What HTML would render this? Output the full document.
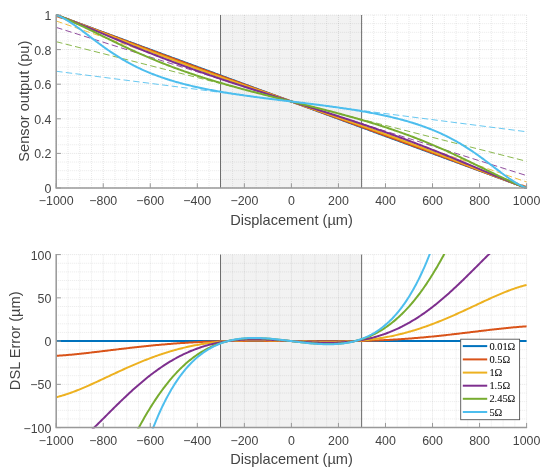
<!DOCTYPE html>
<html><head><meta charset="utf-8"><title>Sensor output and DSL error</title>
<style>html,body{margin:0;padding:0;background:#fff}svg{display:block}.t{font-family:"Liberation Sans",Arial,Helvetica,sans-serif;font-size:12.4px;fill:#444}.l{font-family:"Liberation Sans",Arial,Helvetica,sans-serif;font-size:14.6px;fill:#444}.g{font-family:"Liberation Serif","Times New Roman",serif;font-size:10.4px;fill:#111;stroke:#111;stroke-width:0.1px}</style></head><body>
<svg width="550" height="474" viewBox="0 0 550 474">
<rect width="550" height="474" fill="#fff"/>
<rect x="220.84" y="15.00" width="141.12" height="173.00" fill="#f2f2f2"/>
<path d="M67.96 15.00V188.00M79.72 15.00V188.00M91.48 15.00V188.00M115.00 15.00V188.00M126.76 15.00V188.00M138.52 15.00V188.00M162.04 15.00V188.00M173.80 15.00V188.00M185.56 15.00V188.00M209.08 15.00V188.00M220.84 15.00V188.00M232.60 15.00V188.00M256.12 15.00V188.00M267.88 15.00V188.00M279.64 15.00V188.00M303.16 15.00V188.00M314.92 15.00V188.00M326.68 15.00V188.00M350.20 15.00V188.00M361.96 15.00V188.00M373.72 15.00V188.00M397.24 15.00V188.00M409.00 15.00V188.00M420.76 15.00V188.00M444.28 15.00V188.00M456.04 15.00V188.00M467.80 15.00V188.00M491.32 15.00V188.00M503.08 15.00V188.00M514.84 15.00V188.00M56.20 179.35H526.60M56.20 170.70H526.60M56.20 162.05H526.60M56.20 144.75H526.60M56.20 136.10H526.60M56.20 127.45H526.60M56.20 110.15H526.60M56.20 101.50H526.60M56.20 92.85H526.60M56.20 75.55H526.60M56.20 66.90H526.60M56.20 58.25H526.60M56.20 40.95H526.60M56.20 32.30H526.60M56.20 23.65H526.60" stroke="#000" stroke-opacity="0.085" stroke-width="1" stroke-dasharray="1 1" fill="none"/>
<path d="M56.20 15.00V188.00M103.24 15.00V188.00M150.28 15.00V188.00M197.32 15.00V188.00M244.36 15.00V188.00M291.40 15.00V188.00M338.44 15.00V188.00M385.48 15.00V188.00M432.52 15.00V188.00M479.56 15.00V188.00M526.60 15.00V188.00M56.20 188.00H526.60M56.20 153.40H526.60M56.20 118.80H526.60M56.20 84.20H526.60M56.20 49.60H526.60M56.20 15.00H526.60" stroke="#000" stroke-opacity="0.11" stroke-width="1" stroke-dasharray="1 1" fill="none"/>
<clipPath id="c1"><rect x="55.2" y="13.5" width="472.90000000000003" height="176.0"/></clipPath>
<g clip-path="url(#c1)" fill="none" stroke-linejoin="round">
<path d="M220.5 15.00V188.00M361.6 15.00V188.00" stroke="#6e6e6e" stroke-width="1" fill="none"/>
<path d="M56.20 15.00L57.38 15.43L58.55 15.87L59.73 16.30L60.90 16.73L62.08 17.16L63.26 17.60L64.43 18.03L65.61 18.46L66.78 18.89L67.96 19.33L69.14 19.76L70.31 20.19L71.49 20.62L72.66 21.06L73.84 21.49L75.02 21.92L76.19 22.35L77.37 22.79L78.54 23.22L79.72 23.65L80.90 24.08L82.07 24.52L83.25 24.95L84.42 25.38L85.60 25.81L86.78 26.25L87.95 26.68L89.13 27.11L90.30 27.54L91.48 27.98L92.66 28.41L93.83 28.84L95.01 29.27L96.18 29.71L97.36 30.14L98.54 30.57L99.71 31.00L100.89 31.44L102.06 31.87L103.24 32.30L104.42 32.73L105.59 33.17L106.77 33.60L107.94 34.03L109.12 34.46L110.30 34.90L111.47 35.33L112.65 35.76L113.82 36.19L115.00 36.63L116.18 37.06L117.35 37.49L118.53 37.92L119.70 38.36L120.88 38.79L122.06 39.22L123.23 39.65L124.41 40.09L125.58 40.52L126.76 40.95L127.94 41.38L129.11 41.82L130.29 42.25L131.46 42.68L132.64 43.11L133.82 43.55L134.99 43.98L136.17 44.41L137.34 44.84L138.52 45.28L139.70 45.71L140.87 46.14L142.05 46.57L143.22 47.01L144.40 47.44L145.58 47.87L146.75 48.30L147.93 48.74L149.10 49.17L150.28 49.60L151.46 50.03L152.63 50.47L153.81 50.90L154.98 51.33L156.16 51.76L157.34 52.20L158.51 52.63L159.69 53.06L160.86 53.49L162.04 53.93L163.22 54.36L164.39 54.79L165.57 55.22L166.74 55.66L167.92 56.09L169.10 56.52L170.27 56.95L171.45 57.39L172.62 57.82L173.80 58.25L174.98 58.68L176.15 59.12L177.33 59.55L178.50 59.98L179.68 60.41L180.86 60.85L182.03 61.28L183.21 61.71L184.38 62.14L185.56 62.58L186.74 63.01L187.91 63.44L189.09 63.87L190.26 64.31L191.44 64.74L192.62 65.17L193.79 65.60L194.97 66.04L196.14 66.47L197.32 66.90L198.50 67.33L199.67 67.77L200.85 68.20L202.02 68.63L203.20 69.06L204.38 69.50L205.55 69.93L206.73 70.36L207.90 70.79L209.08 71.23L210.26 71.66L211.43 72.09L212.61 72.52L213.78 72.96L214.96 73.39L216.14 73.82L217.31 74.25L218.49 74.69L219.66 75.12L220.84 75.55L222.02 75.98L223.19 76.42L224.37 76.85L225.54 77.28L226.72 77.71L227.90 78.15L229.07 78.58L230.25 79.01L231.42 79.44L232.60 79.88L233.78 80.31L234.95 80.74L236.13 81.17L237.30 81.61L238.48 82.04L239.66 82.47L240.83 82.90L242.01 83.34L243.18 83.77L244.36 84.20L245.54 84.63L246.71 85.07L247.89 85.50L249.06 85.93L250.24 86.36L251.42 86.80L252.59 87.23L253.77 87.66L254.94 88.09L256.12 88.53L257.30 88.96L258.47 89.39L259.65 89.82L260.82 90.26L262.00 90.69L263.18 91.12L264.35 91.55L265.53 91.99L266.70 92.42L267.88 92.85L269.06 93.28L270.23 93.72L271.41 94.15L272.58 94.58L273.76 95.01L274.94 95.45L276.11 95.88L277.29 96.31L278.46 96.74L279.64 97.18L280.82 97.61L281.99 98.04L283.17 98.47L284.34 98.91L285.52 99.34L286.70 99.77L287.87 100.20L289.05 100.64L290.22 101.07L291.40 101.50L292.58 101.93L293.75 102.36L294.93 102.80L296.10 103.23L297.28 103.66L298.46 104.09L299.63 104.53L300.81 104.96L301.98 105.39L303.16 105.82L304.34 106.26L305.51 106.69L306.69 107.12L307.86 107.55L309.04 107.99L310.22 108.42L311.39 108.85L312.57 109.28L313.74 109.72L314.92 110.15L316.10 110.58L317.27 111.01L318.45 111.45L319.62 111.88L320.80 112.31L321.98 112.74L323.15 113.18L324.33 113.61L325.50 114.04L326.68 114.47L327.86 114.91L329.03 115.34L330.21 115.77L331.38 116.20L332.56 116.64L333.74 117.07L334.91 117.50L336.09 117.93L337.26 118.37L338.44 118.80L339.62 119.23L340.79 119.66L341.97 120.10L343.14 120.53L344.32 120.96L345.50 121.39L346.67 121.83L347.85 122.26L349.02 122.69L350.20 123.12L351.38 123.56L352.55 123.99L353.73 124.42L354.90 124.85L356.08 125.29L357.26 125.72L358.43 126.15L359.61 126.58L360.78 127.02L361.96 127.45L363.14 127.88L364.31 128.31L365.49 128.75L366.66 129.18L367.84 129.61L369.02 130.04L370.19 130.48L371.37 130.91L372.54 131.34L373.72 131.77L374.90 132.21L376.07 132.64L377.25 133.07L378.42 133.50L379.60 133.94L380.78 134.37L381.95 134.80L383.13 135.23L384.30 135.67L385.48 136.10L386.66 136.53L387.83 136.96L389.01 137.40L390.18 137.83L391.36 138.26L392.54 138.69L393.71 139.13L394.89 139.56L396.06 139.99L397.24 140.42L398.42 140.86L399.59 141.29L400.77 141.72L401.94 142.15L403.12 142.59L404.30 143.02L405.47 143.45L406.65 143.88L407.82 144.32L409.00 144.75L410.18 145.18L411.35 145.61L412.53 146.05L413.70 146.48L414.88 146.91L416.06 147.34L417.23 147.78L418.41 148.21L419.58 148.64L420.76 149.07L421.94 149.51L423.11 149.94L424.29 150.37L425.46 150.80L426.64 151.24L427.82 151.67L428.99 152.10L430.17 152.53L431.34 152.97L432.52 153.40L433.70 153.83L434.87 154.26L436.05 154.70L437.22 155.13L438.40 155.56L439.58 155.99L440.75 156.43L441.93 156.86L443.10 157.29L444.28 157.72L445.46 158.16L446.63 158.59L447.81 159.02L448.98 159.45L450.16 159.89L451.34 160.32L452.51 160.75L453.69 161.18L454.86 161.62L456.04 162.05L457.22 162.48L458.39 162.91L459.57 163.35L460.74 163.78L461.92 164.21L463.10 164.64L464.27 165.08L465.45 165.51L466.62 165.94L467.80 166.37L468.98 166.81L470.15 167.24L471.33 167.67L472.50 168.10L473.68 168.54L474.86 168.97L476.03 169.40L477.21 169.83L478.38 170.27L479.56 170.70L480.74 171.13L481.91 171.56L483.09 172.00L484.26 172.43L485.44 172.86L486.62 173.29L487.79 173.73L488.97 174.16L490.14 174.59L491.32 175.02L492.50 175.46L493.67 175.89L494.85 176.32L496.02 176.75L497.20 177.19L498.38 177.62L499.55 178.05L500.73 178.48L501.90 178.92L503.08 179.35L504.26 179.78L505.43 180.21L506.61 180.65L507.78 181.08L508.96 181.51L510.14 181.94L511.31 182.38L512.49 182.81L513.66 183.24L514.84 183.67L516.02 184.11L517.19 184.54L518.37 184.97L519.54 185.40L520.72 185.84L521.90 186.27L523.07 186.70L524.25 187.13L525.42 187.57L526.60 188.00" stroke="#0072BD" stroke-width="2"/>
<path d="M56.20 15.00L526.60 188.00" stroke="#0072BD" stroke-width="1" stroke-dasharray="6.4 3.3" stroke-opacity="0.85"/>
<path d="M56.20 15.00L57.38 15.43L58.55 15.87L59.73 16.30L60.90 16.73L62.08 17.17L63.26 17.60L64.43 18.04L65.61 18.47L66.78 18.91L67.96 19.34L69.14 19.78L70.31 20.21L71.49 20.65L72.66 21.08L73.84 21.52L75.02 21.96L76.19 22.39L77.37 22.83L78.54 23.27L79.72 23.71L80.90 24.14L82.07 24.58L83.25 25.02L84.42 25.46L85.60 25.90L86.78 26.33L87.95 26.77L89.13 27.21L90.30 27.65L91.48 28.09L92.66 28.53L93.83 28.97L95.01 29.41L96.18 29.84L97.36 30.28L98.54 30.72L99.71 31.16L100.89 31.60L102.06 32.04L103.24 32.48L104.42 32.92L105.59 33.36L106.77 33.80L107.94 34.24L109.12 34.68L110.30 35.12L111.47 35.56L112.65 36.00L113.82 36.44L115.00 36.87L116.18 37.31L117.35 37.75L118.53 38.19L119.70 38.63L120.88 39.07L122.06 39.51L123.23 39.95L124.41 40.39L125.58 40.83L126.76 41.27L127.94 41.71L129.11 42.14L130.29 42.58L131.46 43.02L132.64 43.46L133.82 43.90L134.99 44.34L136.17 44.77L137.34 45.21L138.52 45.65L139.70 46.09L140.87 46.53L142.05 46.96L143.22 47.40L144.40 47.84L145.58 48.28L146.75 48.71L147.93 49.15L149.10 49.59L150.28 50.03L151.46 50.46L152.63 50.90L153.81 51.34L154.98 51.77L156.16 52.21L157.34 52.64L158.51 53.08L159.69 53.52L160.86 53.95L162.04 54.39L163.22 54.82L164.39 55.26L165.57 55.69L166.74 56.13L167.92 56.56L169.10 57.00L170.27 57.43L171.45 57.87L172.62 58.30L173.80 58.74L174.98 59.17L176.15 59.60L177.33 60.04L178.50 60.47L179.68 60.90L180.86 61.34L182.03 61.77L183.21 62.20L184.38 62.64L185.56 63.07L186.74 63.50L187.91 63.93L189.09 64.37L190.26 64.80L191.44 65.23L192.62 65.66L193.79 66.09L194.97 66.52L196.14 66.95L197.32 67.39L198.50 67.82L199.67 68.25L200.85 68.68L202.02 69.11L203.20 69.54L204.38 69.97L205.55 70.40L206.73 70.83L207.90 71.26L209.08 71.69L210.26 72.12L211.43 72.55L212.61 72.98L213.78 73.41L214.96 73.83L216.14 74.26L217.31 74.69L218.49 75.12L219.66 75.55L220.84 75.98L222.02 76.40L223.19 76.83L224.37 77.26L225.54 77.69L226.72 78.12L227.90 78.54L229.07 78.97L230.25 79.40L231.42 79.82L232.60 80.25L233.78 80.68L234.95 81.11L236.13 81.53L237.30 81.96L238.48 82.39L239.66 82.81L240.83 83.24L242.01 83.66L243.18 84.09L244.36 84.52L245.54 84.94L246.71 85.37L247.89 85.79L249.06 86.22L250.24 86.64L251.42 87.07L252.59 87.49L253.77 87.92L254.94 88.35L256.12 88.77L257.30 89.20L258.47 89.62L259.65 90.05L260.82 90.47L262.00 90.89L263.18 91.32L264.35 91.74L265.53 92.17L266.70 92.59L267.88 93.02L269.06 93.44L270.23 93.87L271.41 94.29L272.58 94.72L273.76 95.14L274.94 95.56L276.11 95.99L277.29 96.41L278.46 96.84L279.64 97.26L280.82 97.68L281.99 98.11L283.17 98.53L284.34 98.96L285.52 99.38L286.70 99.80L287.87 100.23L289.05 100.65L290.22 101.08L291.40 101.50L292.58 101.92L293.75 102.35L294.93 102.77L296.10 103.20L297.28 103.62L298.46 104.04L299.63 104.47L300.81 104.89L301.98 105.32L303.16 105.74L304.34 106.16L305.51 106.59L306.69 107.01L307.86 107.44L309.04 107.86L310.22 108.28L311.39 108.71L312.57 109.13L313.74 109.56L314.92 109.98L316.10 110.41L317.27 110.83L318.45 111.26L319.62 111.68L320.80 112.11L321.98 112.53L323.15 112.95L324.33 113.38L325.50 113.80L326.68 114.23L327.86 114.65L329.03 115.08L330.21 115.51L331.38 115.93L332.56 116.36L333.74 116.78L334.91 117.21L336.09 117.63L337.26 118.06L338.44 118.48L339.62 118.91L340.79 119.34L341.97 119.76L343.14 120.19L344.32 120.61L345.50 121.04L346.67 121.47L347.85 121.89L349.02 122.32L350.20 122.75L351.38 123.18L352.55 123.60L353.73 124.03L354.90 124.46L356.08 124.88L357.26 125.31L358.43 125.74L359.61 126.17L360.78 126.60L361.96 127.02L363.14 127.45L364.31 127.88L365.49 128.31L366.66 128.74L367.84 129.17L369.02 129.59L370.19 130.02L371.37 130.45L372.54 130.88L373.72 131.31L374.90 131.74L376.07 132.17L377.25 132.60L378.42 133.03L379.60 133.46L380.78 133.89L381.95 134.32L383.13 134.75L384.30 135.18L385.48 135.61L386.66 136.05L387.83 136.48L389.01 136.91L390.18 137.34L391.36 137.77L392.54 138.20L393.71 138.63L394.89 139.07L396.06 139.50L397.24 139.93L398.42 140.36L399.59 140.80L400.77 141.23L401.94 141.66L403.12 142.10L404.30 142.53L405.47 142.96L406.65 143.40L407.82 143.83L409.00 144.26L410.18 144.70L411.35 145.13L412.53 145.57L413.70 146.00L414.88 146.44L416.06 146.87L417.23 147.31L418.41 147.74L419.58 148.18L420.76 148.61L421.94 149.05L423.11 149.48L424.29 149.92L425.46 150.36L426.64 150.79L427.82 151.23L428.99 151.66L430.17 152.10L431.34 152.54L432.52 152.97L433.70 153.41L434.87 153.85L436.05 154.29L437.22 154.72L438.40 155.16L439.58 155.60L440.75 156.04L441.93 156.47L443.10 156.91L444.28 157.35L445.46 157.79L446.63 158.23L447.81 158.66L448.98 159.10L450.16 159.54L451.34 159.98L452.51 160.42L453.69 160.86L454.86 161.29L456.04 161.73L457.22 162.17L458.39 162.61L459.57 163.05L460.74 163.49L461.92 163.93L463.10 164.37L464.27 164.81L465.45 165.25L466.62 165.69L467.80 166.13L468.98 166.56L470.15 167.00L471.33 167.44L472.50 167.88L473.68 168.32L474.86 168.76L476.03 169.20L477.21 169.64L478.38 170.08L479.56 170.52L480.74 170.96L481.91 171.40L483.09 171.84L484.26 172.28L485.44 172.72L486.62 173.16L487.79 173.59L488.97 174.03L490.14 174.47L491.32 174.91L492.50 175.35L493.67 175.79L494.85 176.23L496.02 176.67L497.20 177.10L498.38 177.54L499.55 177.98L500.73 178.42L501.90 178.86L503.08 179.29L504.26 179.73L505.43 180.17L506.61 180.61L507.78 181.04L508.96 181.48L510.14 181.92L511.31 182.35L512.49 182.79L513.66 183.22L514.84 183.66L516.02 184.09L517.19 184.53L518.37 184.96L519.54 185.40L520.72 185.83L521.90 186.27L523.07 186.70L524.25 187.13L525.42 187.57L526.60 188.00" stroke="#D95319" stroke-width="2"/>
<path d="M56.20 16.58L526.60 186.42" stroke="#D95319" stroke-width="1" stroke-dasharray="6.4 3.3" stroke-opacity="0.85"/>
<path d="M56.20 15.00L57.38 15.43L58.55 15.87L59.73 16.30L60.90 16.74L62.08 17.18L63.26 17.62L64.43 18.06L65.61 18.50L66.78 18.94L67.96 19.39L69.14 19.83L70.31 20.28L71.49 20.73L72.66 21.17L73.84 21.62L75.02 22.07L76.19 22.52L77.37 22.97L78.54 23.42L79.72 23.88L80.90 24.33L82.07 24.78L83.25 25.24L84.42 25.69L85.60 26.15L86.78 26.60L87.95 27.06L89.13 27.51L90.30 27.97L91.48 28.43L92.66 28.89L93.83 29.34L95.01 29.80L96.18 30.26L97.36 30.72L98.54 31.18L99.71 31.64L100.89 32.10L102.06 32.56L103.24 33.02L104.42 33.48L105.59 33.94L106.77 34.40L107.94 34.85L109.12 35.31L110.30 35.77L111.47 36.23L112.65 36.69L113.82 37.15L115.00 37.61L116.18 38.07L117.35 38.53L118.53 38.99L119.70 39.45L120.88 39.91L122.06 40.36L123.23 40.82L124.41 41.28L125.58 41.74L126.76 42.19L127.94 42.65L129.11 43.11L130.29 43.56L131.46 44.02L132.64 44.48L133.82 44.93L134.99 45.39L136.17 45.84L137.34 46.30L138.52 46.75L139.70 47.20L140.87 47.65L142.05 48.11L143.22 48.56L144.40 49.01L145.58 49.46L146.75 49.91L147.93 50.36L149.10 50.81L150.28 51.26L151.46 51.71L152.63 52.16L153.81 52.60L154.98 53.05L156.16 53.50L157.34 53.94L158.51 54.39L159.69 54.83L160.86 55.28L162.04 55.72L163.22 56.17L164.39 56.61L165.57 57.05L166.74 57.49L167.92 57.93L169.10 58.37L170.27 58.81L171.45 59.25L172.62 59.69L173.80 60.13L174.98 60.57L176.15 61.00L177.33 61.44L178.50 61.87L179.68 62.31L180.86 62.74L182.03 63.18L183.21 63.61L184.38 64.04L185.56 64.48L186.74 64.91L187.91 65.34L189.09 65.77L190.26 66.20L191.44 66.63L192.62 67.06L193.79 67.48L194.97 67.91L196.14 68.34L197.32 68.76L198.50 69.19L199.67 69.62L200.85 70.04L202.02 70.46L203.20 70.89L204.38 71.31L205.55 71.73L206.73 72.15L207.90 72.58L209.08 73.00L210.26 73.42L211.43 73.84L212.61 74.26L213.78 74.67L214.96 75.09L216.14 75.51L217.31 75.93L218.49 76.34L219.66 76.76L220.84 77.18L222.02 77.59L223.19 78.01L224.37 78.42L225.54 78.83L226.72 79.25L227.90 79.66L229.07 80.07L230.25 80.48L231.42 80.90L232.60 81.31L233.78 81.72L234.95 82.13L236.13 82.54L237.30 82.95L238.48 83.36L239.66 83.77L240.83 84.17L242.01 84.58L243.18 84.99L244.36 85.40L245.54 85.80L246.71 86.21L247.89 86.62L249.06 87.02L250.24 87.43L251.42 87.84L252.59 88.24L253.77 88.65L254.94 89.05L256.12 89.45L257.30 89.86L258.47 90.26L259.65 90.67L260.82 91.07L262.00 91.47L263.18 91.87L264.35 92.28L265.53 92.68L266.70 93.08L267.88 93.48L269.06 93.89L270.23 94.29L271.41 94.69L272.58 95.09L273.76 95.49L274.94 95.89L276.11 96.29L277.29 96.70L278.46 97.10L279.64 97.50L280.82 97.90L281.99 98.30L283.17 98.70L284.34 99.10L285.52 99.50L286.70 99.90L287.87 100.30L289.05 100.70L290.22 101.10L291.40 101.50L292.58 101.90L293.75 102.30L294.93 102.70L296.10 103.10L297.28 103.50L298.46 103.90L299.63 104.30L300.81 104.70L301.98 105.10L303.16 105.50L304.34 105.90L305.51 106.30L306.69 106.71L307.86 107.11L309.04 107.51L310.22 107.91L311.39 108.31L312.57 108.71L313.74 109.11L314.92 109.52L316.10 109.92L317.27 110.32L318.45 110.72L319.62 111.13L320.80 111.53L321.98 111.93L323.15 112.33L324.33 112.74L325.50 113.14L326.68 113.55L327.86 113.95L329.03 114.35L330.21 114.76L331.38 115.16L332.56 115.57L333.74 115.98L334.91 116.38L336.09 116.79L337.26 117.20L338.44 117.60L339.62 118.01L340.79 118.42L341.97 118.83L343.14 119.23L344.32 119.64L345.50 120.05L346.67 120.46L347.85 120.87L349.02 121.28L350.20 121.69L351.38 122.10L352.55 122.52L353.73 122.93L354.90 123.34L356.08 123.75L357.26 124.17L358.43 124.58L359.61 124.99L360.78 125.41L361.96 125.82L363.14 126.24L364.31 126.66L365.49 127.07L366.66 127.49L367.84 127.91L369.02 128.33L370.19 128.74L371.37 129.16L372.54 129.58L373.72 130.00L374.90 130.42L376.07 130.85L377.25 131.27L378.42 131.69L379.60 132.11L380.78 132.54L381.95 132.96L383.13 133.38L384.30 133.81L385.48 134.24L386.66 134.66L387.83 135.09L389.01 135.52L390.18 135.94L391.36 136.37L392.54 136.80L393.71 137.23L394.89 137.66L396.06 138.09L397.24 138.52L398.42 138.96L399.59 139.39L400.77 139.82L401.94 140.26L403.12 140.69L404.30 141.13L405.47 141.56L406.65 142.00L407.82 142.43L409.00 142.87L410.18 143.31L411.35 143.75L412.53 144.19L413.70 144.63L414.88 145.07L416.06 145.51L417.23 145.95L418.41 146.39L419.58 146.83L420.76 147.28L421.94 147.72L423.11 148.17L424.29 148.61L425.46 149.06L426.64 149.50L427.82 149.95L428.99 150.40L430.17 150.84L431.34 151.29L432.52 151.74L433.70 152.19L434.87 152.64L436.05 153.09L437.22 153.54L438.40 153.99L439.58 154.44L440.75 154.89L441.93 155.35L443.10 155.80L444.28 156.25L445.46 156.70L446.63 157.16L447.81 157.61L448.98 158.07L450.16 158.52L451.34 158.98L452.51 159.44L453.69 159.89L454.86 160.35L456.04 160.81L457.22 161.26L458.39 161.72L459.57 162.18L460.74 162.64L461.92 163.09L463.10 163.55L464.27 164.01L465.45 164.47L466.62 164.93L467.80 165.39L468.98 165.85L470.15 166.31L471.33 166.77L472.50 167.23L473.68 167.69L474.86 168.15L476.03 168.60L477.21 169.06L478.38 169.52L479.56 169.98L480.74 170.44L481.91 170.90L483.09 171.36L484.26 171.82L485.44 172.28L486.62 172.74L487.79 173.20L488.97 173.66L490.14 174.11L491.32 174.57L492.50 175.03L493.67 175.49L494.85 175.94L496.02 176.40L497.20 176.85L498.38 177.31L499.55 177.76L500.73 178.22L501.90 178.67L503.08 179.12L504.26 179.58L505.43 180.03L506.61 180.48L507.78 180.93L508.96 181.38L510.14 181.83L511.31 182.27L512.49 182.72L513.66 183.17L514.84 183.61L516.02 184.06L517.19 184.50L518.37 184.94L519.54 185.38L520.72 185.82L521.90 186.26L523.07 186.70L524.25 187.13L525.42 187.57L526.60 188.00" stroke="#EDB120" stroke-width="2"/>
<path d="M56.20 20.99L526.60 182.01" stroke="#EDB120" stroke-width="1" stroke-dasharray="6.4 3.3" stroke-opacity="0.85"/>
<path d="M56.20 15.00L57.38 15.43L58.55 15.87L59.73 16.31L60.90 16.75L62.08 17.20L63.26 17.65L64.43 18.10L65.61 18.55L66.78 19.01L67.96 19.47L69.14 19.93L70.31 20.39L71.49 20.85L72.66 21.32L73.84 21.79L75.02 22.26L76.19 22.73L77.37 23.21L78.54 23.68L79.72 24.16L80.90 24.64L82.07 25.11L83.25 25.60L84.42 26.08L85.60 26.56L86.78 27.04L87.95 27.53L89.13 28.01L90.30 28.50L91.48 28.99L92.66 29.48L93.83 29.97L95.01 30.46L96.18 30.95L97.36 31.44L98.54 31.93L99.71 32.42L100.89 32.91L102.06 33.40L103.24 33.89L104.42 34.38L105.59 34.87L106.77 35.37L107.94 35.86L109.12 36.35L110.30 36.84L111.47 37.33L112.65 37.82L113.82 38.31L115.00 38.80L116.18 39.29L117.35 39.78L118.53 40.27L119.70 40.76L120.88 41.25L122.06 41.74L123.23 42.22L124.41 42.71L125.58 43.20L126.76 43.68L127.94 44.17L129.11 44.65L130.29 45.13L131.46 45.61L132.64 46.09L133.82 46.57L134.99 47.05L136.17 47.53L137.34 48.01L138.52 48.49L139.70 48.96L140.87 49.44L142.05 49.91L143.22 50.38L144.40 50.85L145.58 51.32L146.75 51.79L147.93 52.26L149.10 52.73L150.28 53.19L151.46 53.66L152.63 54.12L153.81 54.58L154.98 55.04L156.16 55.50L157.34 55.96L158.51 56.42L159.69 56.88L160.86 57.33L162.04 57.79L163.22 58.24L164.39 58.69L165.57 59.14L166.74 59.59L167.92 60.04L169.10 60.48L170.27 60.93L171.45 61.37L172.62 61.82L173.80 62.26L174.98 62.70L176.15 63.14L177.33 63.58L178.50 64.01L179.68 64.45L180.86 64.88L182.03 65.31L183.21 65.75L184.38 66.18L185.56 66.61L186.74 67.03L187.91 67.46L189.09 67.89L190.26 68.31L191.44 68.73L192.62 69.15L193.79 69.57L194.97 69.99L196.14 70.41L197.32 70.83L198.50 71.25L199.67 71.66L200.85 72.07L202.02 72.49L203.20 72.90L204.38 73.31L205.55 73.72L206.73 74.13L207.90 74.53L209.08 74.94L210.26 75.34L211.43 75.75L212.61 76.15L213.78 76.55L214.96 76.95L216.14 77.35L217.31 77.75L218.49 78.15L219.66 78.55L220.84 78.94L222.02 79.34L223.19 79.73L224.37 80.12L225.54 80.52L226.72 80.91L227.90 81.30L229.07 81.69L230.25 82.08L231.42 82.46L232.60 82.85L233.78 83.24L234.95 83.62L236.13 84.01L237.30 84.39L238.48 84.77L239.66 85.16L240.83 85.54L242.01 85.92L243.18 86.30L244.36 86.68L245.54 87.06L246.71 87.44L247.89 87.82L249.06 88.19L250.24 88.57L251.42 88.95L252.59 89.32L253.77 89.70L254.94 90.07L256.12 90.44L257.30 90.82L258.47 91.19L259.65 91.56L260.82 91.93L262.00 92.31L263.18 92.68L264.35 93.05L265.53 93.42L266.70 93.79L267.88 94.16L269.06 94.53L270.23 94.90L271.41 95.26L272.58 95.63L273.76 96.00L274.94 96.37L276.11 96.74L277.29 97.10L278.46 97.47L279.64 97.84L280.82 98.20L281.99 98.57L283.17 98.94L284.34 99.30L285.52 99.67L286.70 100.04L287.87 100.40L289.05 100.77L290.22 101.13L291.40 101.50L292.58 101.87L293.75 102.23L294.93 102.60L296.10 102.96L297.28 103.33L298.46 103.70L299.63 104.06L300.81 104.43L301.98 104.80L303.16 105.16L304.34 105.53L305.51 105.90L306.69 106.26L307.86 106.63L309.04 107.00L310.22 107.37L311.39 107.74L312.57 108.10L313.74 108.47L314.92 108.84L316.10 109.21L317.27 109.58L318.45 109.95L319.62 110.32L320.80 110.69L321.98 111.07L323.15 111.44L324.33 111.81L325.50 112.18L326.68 112.56L327.86 112.93L329.03 113.30L330.21 113.68L331.38 114.05L332.56 114.43L333.74 114.81L334.91 115.18L336.09 115.56L337.26 115.94L338.44 116.32L339.62 116.70L340.79 117.08L341.97 117.46L343.14 117.84L344.32 118.23L345.50 118.61L346.67 118.99L347.85 119.38L349.02 119.76L350.20 120.15L351.38 120.54L352.55 120.92L353.73 121.31L354.90 121.70L356.08 122.09L357.26 122.48L358.43 122.88L359.61 123.27L360.78 123.66L361.96 124.06L363.14 124.45L364.31 124.85L365.49 125.25L366.66 125.65L367.84 126.05L369.02 126.45L370.19 126.85L371.37 127.25L372.54 127.66L373.72 128.06L374.90 128.47L376.07 128.87L377.25 129.28L378.42 129.69L379.60 130.10L380.78 130.51L381.95 130.93L383.13 131.34L384.30 131.75L385.48 132.17L386.66 132.59L387.83 133.01L389.01 133.43L390.18 133.85L391.36 134.27L392.54 134.69L393.71 135.11L394.89 135.54L396.06 135.97L397.24 136.39L398.42 136.82L399.59 137.25L400.77 137.69L401.94 138.12L403.12 138.55L404.30 138.99L405.47 139.42L406.65 139.86L407.82 140.30L409.00 140.74L410.18 141.18L411.35 141.63L412.53 142.07L413.70 142.52L414.88 142.96L416.06 143.41L417.23 143.86L418.41 144.31L419.58 144.76L420.76 145.21L421.94 145.67L423.11 146.12L424.29 146.58L425.46 147.04L426.64 147.50L427.82 147.96L428.99 148.42L430.17 148.88L431.34 149.34L432.52 149.81L433.70 150.27L434.87 150.74L436.05 151.21L437.22 151.68L438.40 152.15L439.58 152.62L440.75 153.09L441.93 153.56L443.10 154.04L444.28 154.51L445.46 154.99L446.63 155.47L447.81 155.95L448.98 156.43L450.16 156.91L451.34 157.39L452.51 157.87L453.69 158.35L454.86 158.83L456.04 159.32L457.22 159.80L458.39 160.29L459.57 160.78L460.74 161.26L461.92 161.75L463.10 162.24L464.27 162.73L465.45 163.22L466.62 163.71L467.80 164.20L468.98 164.69L470.15 165.18L471.33 165.67L472.50 166.16L473.68 166.65L474.86 167.14L476.03 167.63L477.21 168.13L478.38 168.62L479.56 169.11L480.74 169.60L481.91 170.09L483.09 170.58L484.26 171.07L485.44 171.56L486.62 172.05L487.79 172.54L488.97 173.03L490.14 173.52L491.32 174.01L492.50 174.50L493.67 174.99L494.85 175.47L496.02 175.96L497.20 176.44L498.38 176.92L499.55 177.40L500.73 177.89L501.90 178.36L503.08 178.84L504.26 179.32L505.43 179.79L506.61 180.27L507.78 180.74L508.96 181.21L510.14 181.68L511.31 182.15L512.49 182.61L513.66 183.07L514.84 183.53L516.02 183.99L517.19 184.45L518.37 184.90L519.54 185.35L520.72 185.80L521.90 186.25L523.07 186.69L524.25 187.13L525.42 187.57L526.60 188.00" stroke="#7E2F8E" stroke-width="2"/>
<path d="M56.20 27.40L526.60 175.60" stroke="#7E2F8E" stroke-width="1" stroke-dasharray="6.4 3.3" stroke-opacity="0.85"/>
<path d="M56.20 15.00L57.38 15.44L58.55 15.88L59.73 16.33L60.90 16.79L62.08 17.26L63.26 17.74L64.43 18.22L65.61 18.71L66.78 19.20L67.96 19.70L69.14 20.21L70.31 20.72L71.49 21.24L72.66 21.76L73.84 22.29L75.02 22.82L76.19 23.36L77.37 23.90L78.54 24.44L79.72 24.99L80.90 25.54L82.07 26.09L83.25 26.65L84.42 27.21L85.60 27.77L86.78 28.34L87.95 28.91L89.13 29.48L90.30 30.05L91.48 30.62L92.66 31.19L93.83 31.77L95.01 32.34L96.18 32.92L97.36 33.50L98.54 34.08L99.71 34.65L100.89 35.23L102.06 35.81L103.24 36.39L104.42 36.97L105.59 37.54L106.77 38.12L107.94 38.70L109.12 39.27L110.30 39.85L111.47 40.42L112.65 40.99L113.82 41.56L115.00 42.13L116.18 42.70L117.35 43.26L118.53 43.83L119.70 44.39L120.88 44.95L122.06 45.51L123.23 46.07L124.41 46.62L125.58 47.18L126.76 47.73L127.94 48.27L129.11 48.82L130.29 49.36L131.46 49.90L132.64 50.44L133.82 50.98L134.99 51.51L136.17 52.04L137.34 52.57L138.52 53.10L139.70 53.62L140.87 54.14L142.05 54.65L143.22 55.17L144.40 55.68L145.58 56.19L146.75 56.69L147.93 57.20L149.10 57.70L150.28 58.19L151.46 58.69L152.63 59.18L153.81 59.67L154.98 60.15L156.16 60.63L157.34 61.11L158.51 61.59L159.69 62.06L160.86 62.53L162.04 63.00L163.22 63.46L164.39 63.92L165.57 64.38L166.74 64.84L167.92 65.29L169.10 65.74L170.27 66.19L171.45 66.63L172.62 67.07L173.80 67.51L174.98 67.95L176.15 68.38L177.33 68.81L178.50 69.24L179.68 69.66L180.86 70.08L182.03 70.50L183.21 70.92L184.38 71.33L185.56 71.74L186.74 72.15L187.91 72.56L189.09 72.96L190.26 73.36L191.44 73.76L192.62 74.16L193.79 74.55L194.97 74.94L196.14 75.33L197.32 75.71L198.50 76.10L199.67 76.48L200.85 76.86L202.02 77.24L203.20 77.61L204.38 77.98L205.55 78.35L206.73 78.72L207.90 79.09L209.08 79.45L210.26 79.81L211.43 80.17L212.61 80.53L213.78 80.89L214.96 81.24L216.14 81.59L217.31 81.94L218.49 82.29L219.66 82.64L220.84 82.98L222.02 83.32L223.19 83.66L224.37 84.00L225.54 84.34L226.72 84.68L227.90 85.01L229.07 85.34L230.25 85.67L231.42 86.00L232.60 86.33L233.78 86.66L234.95 86.99L236.13 87.31L237.30 87.63L238.48 87.95L239.66 88.27L240.83 88.59L242.01 88.91L243.18 89.22L244.36 89.54L245.54 89.85L246.71 90.17L247.89 90.48L249.06 90.79L250.24 91.10L251.42 91.41L252.59 91.71L253.77 92.02L254.94 92.33L256.12 92.63L257.30 92.93L258.47 93.24L259.65 93.54L260.82 93.84L262.00 94.14L263.18 94.44L264.35 94.74L265.53 95.04L266.70 95.34L267.88 95.63L269.06 95.93L270.23 96.23L271.41 96.52L272.58 96.82L273.76 97.11L274.94 97.41L276.11 97.70L277.29 98.00L278.46 98.29L279.64 98.58L280.82 98.87L281.99 99.17L283.17 99.46L284.34 99.75L285.52 100.04L286.70 100.33L287.87 100.63L289.05 100.92L290.22 101.21L291.40 101.50L292.58 101.79L293.75 102.08L294.93 102.37L296.10 102.67L297.28 102.96L298.46 103.25L299.63 103.54L300.81 103.83L301.98 104.13L303.16 104.42L304.34 104.71L305.51 105.00L306.69 105.30L307.86 105.59L309.04 105.89L310.22 106.18L311.39 106.48L312.57 106.77L313.74 107.07L314.92 107.37L316.10 107.66L317.27 107.96L318.45 108.26L319.62 108.56L320.80 108.86L321.98 109.16L323.15 109.46L324.33 109.76L325.50 110.07L326.68 110.37L327.86 110.67L329.03 110.98L330.21 111.29L331.38 111.59L332.56 111.90L333.74 112.21L334.91 112.52L336.09 112.83L337.26 113.15L338.44 113.46L339.62 113.78L340.79 114.09L341.97 114.41L343.14 114.73L344.32 115.05L345.50 115.37L346.67 115.69L347.85 116.01L349.02 116.34L350.20 116.67L351.38 117.00L352.55 117.33L353.73 117.66L354.90 117.99L356.08 118.32L357.26 118.66L358.43 119.00L359.61 119.34L360.78 119.68L361.96 120.02L363.14 120.36L364.31 120.71L365.49 121.06L366.66 121.41L367.84 121.76L369.02 122.11L370.19 122.47L371.37 122.83L372.54 123.19L373.72 123.55L374.90 123.91L376.07 124.28L377.25 124.65L378.42 125.02L379.60 125.39L380.78 125.76L381.95 126.14L383.13 126.52L384.30 126.90L385.48 127.29L386.66 127.67L387.83 128.06L389.01 128.45L390.18 128.84L391.36 129.24L392.54 129.64L393.71 130.04L394.89 130.44L396.06 130.85L397.24 131.26L398.42 131.67L399.59 132.08L400.77 132.50L401.94 132.92L403.12 133.34L404.30 133.76L405.47 134.19L406.65 134.62L407.82 135.05L409.00 135.49L410.18 135.93L411.35 136.37L412.53 136.81L413.70 137.26L414.88 137.71L416.06 138.16L417.23 138.62L418.41 139.08L419.58 139.54L420.76 140.00L421.94 140.47L423.11 140.94L424.29 141.41L425.46 141.89L426.64 142.37L427.82 142.85L428.99 143.33L430.17 143.82L431.34 144.31L432.52 144.81L433.70 145.30L434.87 145.80L436.05 146.31L437.22 146.81L438.40 147.32L439.58 147.83L440.75 148.35L441.93 148.86L443.10 149.38L444.28 149.90L445.46 150.43L446.63 150.96L447.81 151.49L448.98 152.02L450.16 152.56L451.34 153.10L452.51 153.64L453.69 154.18L454.86 154.73L456.04 155.27L457.22 155.82L458.39 156.38L459.57 156.93L460.74 157.49L461.92 158.05L463.10 158.61L464.27 159.17L465.45 159.74L466.62 160.30L467.80 160.87L468.98 161.44L470.15 162.01L471.33 162.58L472.50 163.15L473.68 163.73L474.86 164.30L476.03 164.88L477.21 165.46L478.38 166.03L479.56 166.61L480.74 167.19L481.91 167.77L483.09 168.35L484.26 168.92L485.44 169.50L486.62 170.08L487.79 170.66L488.97 171.23L490.14 171.81L491.32 172.38L492.50 172.95L493.67 173.52L494.85 174.09L496.02 174.66L497.20 175.23L498.38 175.79L499.55 176.35L500.73 176.91L501.90 177.46L503.08 178.01L504.26 178.56L505.43 179.10L506.61 179.64L507.78 180.18L508.96 180.71L510.14 181.24L511.31 181.76L512.49 182.28L513.66 182.79L514.84 183.30L516.02 183.80L517.19 184.29L518.37 184.78L519.54 185.26L520.72 185.74L521.90 186.21L523.07 186.67L524.25 187.12L525.42 187.56L526.60 188.00" stroke="#77AC30" stroke-width="2"/>
<path d="M56.20 41.70L526.60 161.30" stroke="#77AC30" stroke-width="1" stroke-dasharray="6.4 3.3" stroke-opacity="0.85"/>
<path d="M56.20 15.00L57.38 15.45L58.55 15.93L59.73 16.45L60.90 17.00L62.08 17.58L63.26 18.18L64.43 18.82L65.61 19.48L66.78 20.16L67.96 20.87L69.14 21.60L70.31 22.35L71.49 23.12L72.66 23.91L73.84 24.72L75.02 25.54L76.19 26.37L77.37 27.21L78.54 28.07L79.72 28.94L80.90 29.81L82.07 30.69L83.25 31.58L84.42 32.47L85.60 33.36L86.78 34.26L87.95 35.16L89.13 36.06L90.30 36.96L91.48 37.86L92.66 38.76L93.83 39.66L95.01 40.55L96.18 41.43L97.36 42.32L98.54 43.20L99.71 44.07L100.89 44.93L102.06 45.79L103.24 46.64L104.42 47.49L105.59 48.33L106.77 49.15L107.94 49.97L109.12 50.78L110.30 51.59L111.47 52.38L112.65 53.16L113.82 53.94L115.00 54.70L116.18 55.45L117.35 56.20L118.53 56.93L119.70 57.66L120.88 58.37L122.06 59.07L123.23 59.77L124.41 60.45L125.58 61.13L126.76 61.79L127.94 62.44L129.11 63.09L130.29 63.72L131.46 64.35L132.64 64.96L133.82 65.57L134.99 66.16L136.17 66.75L137.34 67.32L138.52 67.89L139.70 68.45L140.87 69.00L142.05 69.54L143.22 70.07L144.40 70.59L145.58 71.11L146.75 71.61L147.93 72.11L149.10 72.60L150.28 73.08L151.46 73.56L152.63 74.02L153.81 74.48L154.98 74.93L156.16 75.38L157.34 75.81L158.51 76.24L159.69 76.67L160.86 77.08L162.04 77.49L163.22 77.89L164.39 78.29L165.57 78.68L166.74 79.06L167.92 79.44L169.10 79.81L170.27 80.18L171.45 80.54L172.62 80.89L173.80 81.24L174.98 81.59L176.15 81.92L177.33 82.26L178.50 82.58L179.68 82.91L180.86 83.23L182.03 83.54L183.21 83.85L184.38 84.15L185.56 84.45L186.74 84.75L187.91 85.04L189.09 85.33L190.26 85.61L191.44 85.89L192.62 86.16L193.79 86.43L194.97 86.70L196.14 86.96L197.32 87.22L198.50 87.48L199.67 87.73L200.85 87.98L202.02 88.23L203.20 88.47L204.38 88.71L205.55 88.95L206.73 89.18L207.90 89.42L209.08 89.64L210.26 89.87L211.43 90.09L212.61 90.31L213.78 90.53L214.96 90.75L216.14 90.96L217.31 91.17L218.49 91.38L219.66 91.58L220.84 91.78L222.02 91.98L223.19 92.18L224.37 92.38L225.54 92.57L226.72 92.77L227.90 92.96L229.07 93.15L230.25 93.33L231.42 93.52L232.60 93.70L233.78 93.88L234.95 94.06L236.13 94.24L237.30 94.42L238.48 94.59L239.66 94.77L240.83 94.94L242.01 95.11L243.18 95.28L244.36 95.45L245.54 95.62L246.71 95.78L247.89 95.95L249.06 96.11L250.24 96.27L251.42 96.43L252.59 96.59L253.77 96.75L254.94 96.91L256.12 97.07L257.30 97.22L258.47 97.38L259.65 97.53L260.82 97.69L262.00 97.84L263.18 97.99L264.35 98.14L265.53 98.30L266.70 98.45L267.88 98.59L269.06 98.74L270.23 98.89L271.41 99.04L272.58 99.19L273.76 99.33L274.94 99.48L276.11 99.63L277.29 99.77L278.46 99.92L279.64 100.06L280.82 100.21L281.99 100.35L283.17 100.50L284.34 100.64L285.52 100.78L286.70 100.93L287.87 101.07L289.05 101.21L290.22 101.36L291.40 101.50L292.58 101.64L293.75 101.79L294.93 101.93L296.10 102.07L297.28 102.22L298.46 102.36L299.63 102.50L300.81 102.65L301.98 102.79L303.16 102.94L304.34 103.08L305.51 103.23L306.69 103.37L307.86 103.52L309.04 103.67L310.22 103.81L311.39 103.96L312.57 104.11L313.74 104.26L314.92 104.41L316.10 104.55L317.27 104.70L318.45 104.86L319.62 105.01L320.80 105.16L321.98 105.31L323.15 105.47L324.33 105.62L325.50 105.78L326.68 105.93L327.86 106.09L329.03 106.25L330.21 106.41L331.38 106.57L332.56 106.73L333.74 106.89L334.91 107.05L336.09 107.22L337.26 107.38L338.44 107.55L339.62 107.72L340.79 107.89L341.97 108.06L343.14 108.23L344.32 108.41L345.50 108.58L346.67 108.76L347.85 108.94L349.02 109.12L350.20 109.30L351.38 109.48L352.55 109.67L353.73 109.85L354.90 110.04L356.08 110.23L357.26 110.43L358.43 110.62L359.61 110.82L360.78 111.02L361.96 111.22L363.14 111.42L364.31 111.62L365.49 111.83L366.66 112.04L367.84 112.25L369.02 112.47L370.19 112.69L371.37 112.91L372.54 113.13L373.72 113.36L374.90 113.58L376.07 113.82L377.25 114.05L378.42 114.29L379.60 114.53L380.78 114.77L381.95 115.02L383.13 115.27L384.30 115.52L385.48 115.78L386.66 116.04L387.83 116.30L389.01 116.57L390.18 116.84L391.36 117.11L392.54 117.39L393.71 117.67L394.89 117.96L396.06 118.25L397.24 118.55L398.42 118.85L399.59 119.15L400.77 119.46L401.94 119.77L403.12 120.09L404.30 120.42L405.47 120.74L406.65 121.08L407.82 121.41L409.00 121.76L410.18 122.11L411.35 122.46L412.53 122.82L413.70 123.19L414.88 123.56L416.06 123.94L417.23 124.32L418.41 124.71L419.58 125.11L420.76 125.51L421.94 125.92L423.11 126.33L424.29 126.76L425.46 127.19L426.64 127.62L427.82 128.07L428.99 128.52L430.17 128.98L431.34 129.44L432.52 129.92L433.70 130.40L434.87 130.89L436.05 131.39L437.22 131.89L438.40 132.41L439.58 132.93L440.75 133.46L441.93 134.00L443.10 134.55L444.28 135.11L445.46 135.68L446.63 136.25L447.81 136.84L448.98 137.43L450.16 138.04L451.34 138.65L452.51 139.28L453.69 139.91L454.86 140.56L456.04 141.21L457.22 141.87L458.39 142.55L459.57 143.23L460.74 143.93L461.92 144.63L463.10 145.34L464.27 146.07L465.45 146.80L466.62 147.55L467.80 148.30L468.98 149.06L470.15 149.84L471.33 150.62L472.50 151.41L473.68 152.22L474.86 153.03L476.03 153.85L477.21 154.67L478.38 155.51L479.56 156.36L480.74 157.21L481.91 158.07L483.09 158.93L484.26 159.80L485.44 160.68L486.62 161.57L487.79 162.45L488.97 163.34L490.14 164.24L491.32 165.14L492.50 166.04L493.67 166.94L494.85 167.84L496.02 168.74L497.20 169.64L498.38 170.53L499.55 171.42L500.73 172.31L501.90 173.19L503.08 174.06L504.26 174.93L505.43 175.79L506.61 176.63L507.78 177.46L508.96 178.28L510.14 179.09L511.31 179.88L512.49 180.65L513.66 181.40L514.84 182.13L516.02 182.84L517.19 183.52L518.37 184.18L519.54 184.82L520.72 185.42L521.90 186.00L523.07 186.55L524.25 187.07L525.42 187.55L526.60 188.00" stroke="#4DBEEE" stroke-width="2"/>
<path d="M56.20 71.25L526.60 131.75" stroke="#4DBEEE" stroke-width="1" stroke-dasharray="6.4 3.3" stroke-opacity="0.85"/>
</g>
<path d="M56.20 188.00v-4.7M103.24 188.00v-4.7M150.28 188.00v-4.7M197.32 188.00v-4.7M244.36 188.00v-4.7M291.40 188.00v-4.7M338.44 188.00v-4.7M385.48 188.00v-4.7M432.52 188.00v-4.7M479.56 188.00v-4.7M526.60 188.00v-4.7M56.20 188.00h4.7M56.20 153.40h4.7M56.20 118.80h4.7M56.20 84.20h4.7M56.20 49.60h4.7M56.20 15.00h4.7" stroke="#999" stroke-width="1" fill="none"/>
<path d="M56.20 14.50V188.00H527.10" stroke="#999" stroke-width="1.5" fill="none" stroke-linejoin="miter"/>
<text class="t" x="56.20" y="204.90" text-anchor="middle">−1000</text>
<text class="t" x="103.24" y="204.90" text-anchor="middle">−800</text>
<text class="t" x="150.28" y="204.90" text-anchor="middle">−600</text>
<text class="t" x="197.32" y="204.90" text-anchor="middle">−400</text>
<text class="t" x="244.36" y="204.90" text-anchor="middle">−200</text>
<text class="t" x="291.40" y="204.90" text-anchor="middle">0</text>
<text class="t" x="338.44" y="204.90" text-anchor="middle">200</text>
<text class="t" x="385.48" y="204.90" text-anchor="middle">400</text>
<text class="t" x="432.52" y="204.90" text-anchor="middle">600</text>
<text class="t" x="479.56" y="204.90" text-anchor="middle">800</text>
<text class="t" x="526.60" y="204.90" text-anchor="middle">1000</text>
<text class="t" x="51.4" y="192.90" text-anchor="end">0</text>
<text class="t" x="51.4" y="158.30" text-anchor="end">0.2</text>
<text class="t" x="51.4" y="123.70" text-anchor="end">0.4</text>
<text class="t" x="51.4" y="89.10" text-anchor="end">0.6</text>
<text class="t" x="51.4" y="54.50" text-anchor="end">0.8</text>
<text class="t" x="51.4" y="19.90" text-anchor="end">1</text>
<text class="l" x="291.50" y="224.70" text-anchor="middle">Displacement (µm)</text>
<text class="l" transform="translate(28.5,101.20) rotate(-90)" text-anchor="middle">Sensor output (pu)</text>
<rect x="220.84" y="254.60" width="141.12" height="173.00" fill="#f2f2f2"/>
<path d="M67.96 254.60V427.60M79.72 254.60V427.60M91.48 254.60V427.60M115.00 254.60V427.60M126.76 254.60V427.60M138.52 254.60V427.60M162.04 254.60V427.60M173.80 254.60V427.60M185.56 254.60V427.60M209.08 254.60V427.60M220.84 254.60V427.60M232.60 254.60V427.60M256.12 254.60V427.60M267.88 254.60V427.60M279.64 254.60V427.60M303.16 254.60V427.60M314.92 254.60V427.60M326.68 254.60V427.60M350.20 254.60V427.60M361.96 254.60V427.60M373.72 254.60V427.60M397.24 254.60V427.60M409.00 254.60V427.60M420.76 254.60V427.60M444.28 254.60V427.60M456.04 254.60V427.60M467.80 254.60V427.60M491.32 254.60V427.60M503.08 254.60V427.60M514.84 254.60V427.60M56.20 418.95H526.60M56.20 410.30H526.60M56.20 401.65H526.60M56.20 393.00H526.60M56.20 375.70H526.60M56.20 367.05H526.60M56.20 358.40H526.60M56.20 349.75H526.60M56.20 332.45H526.60M56.20 323.80H526.60M56.20 315.15H526.60M56.20 306.50H526.60M56.20 289.20H526.60M56.20 280.55H526.60M56.20 271.90H526.60M56.20 263.25H526.60" stroke="#000" stroke-opacity="0.085" stroke-width="1" stroke-dasharray="1 1" fill="none"/>
<path d="M56.20 254.60V427.60M103.24 254.60V427.60M150.28 254.60V427.60M197.32 254.60V427.60M244.36 254.60V427.60M291.40 254.60V427.60M338.44 254.60V427.60M385.48 254.60V427.60M432.52 254.60V427.60M479.56 254.60V427.60M526.60 254.60V427.60M56.20 427.60H526.60M56.20 384.35H526.60M56.20 341.10H526.60M56.20 297.85H526.60M56.20 254.60H526.60" stroke="#000" stroke-opacity="0.11" stroke-width="1" stroke-dasharray="1 1" fill="none"/>
<clipPath id="c2"><rect x="55.2" y="254.1" width="472.90000000000003" height="174.50000000000003"/></clipPath>
<g clip-path="url(#c2)" fill="none" stroke-linejoin="round">
<path d="M220.5 254.60V427.60M361.6 254.60V427.60" stroke="#6e6e6e" stroke-width="1" fill="none"/>
<path d="M56.20 341.11L57.38 341.11L58.55 341.11L59.73 341.11L60.90 341.11L62.08 341.11L63.26 341.11L64.43 341.11L65.61 341.11L66.78 341.11L67.96 341.11L69.14 341.11L70.31 341.11L71.49 341.11L72.66 341.11L73.84 341.11L75.02 341.11L76.19 341.11L77.37 341.11L78.54 341.11L79.72 341.11L80.90 341.11L82.07 341.11L83.25 341.11L84.42 341.10L85.60 341.10L86.78 341.10L87.95 341.10L89.13 341.10L90.30 341.10L91.48 341.10L92.66 341.10L93.83 341.10L95.01 341.10L96.18 341.10L97.36 341.10L98.54 341.10L99.71 341.10L100.89 341.10L102.06 341.10L103.24 341.10L104.42 341.10L105.59 341.10L106.77 341.10L107.94 341.10L109.12 341.10L110.30 341.10L111.47 341.10L112.65 341.10L113.82 341.10L115.00 341.10L116.18 341.10L117.35 341.10L118.53 341.10L119.70 341.10L120.88 341.10L122.06 341.10L123.23 341.10L124.41 341.10L125.58 341.10L126.76 341.10L127.94 341.10L129.11 341.10L130.29 341.10L131.46 341.10L132.64 341.10L133.82 341.10L134.99 341.10L136.17 341.10L137.34 341.10L138.52 341.10L139.70 341.10L140.87 341.10L142.05 341.10L143.22 341.10L144.40 341.10L145.58 341.10L146.75 341.10L147.93 341.10L149.10 341.10L150.28 341.10L151.46 341.10L152.63 341.10L153.81 341.10L154.98 341.10L156.16 341.10L157.34 341.10L158.51 341.10L159.69 341.10L160.86 341.10L162.04 341.10L163.22 341.10L164.39 341.10L165.57 341.10L166.74 341.10L167.92 341.10L169.10 341.10L170.27 341.10L171.45 341.10L172.62 341.10L173.80 341.10L174.98 341.10L176.15 341.10L177.33 341.10L178.50 341.10L179.68 341.10L180.86 341.10L182.03 341.10L183.21 341.10L184.38 341.10L185.56 341.10L186.74 341.10L187.91 341.10L189.09 341.10L190.26 341.10L191.44 341.10L192.62 341.10L193.79 341.10L194.97 341.10L196.14 341.10L197.32 341.10L198.50 341.10L199.67 341.10L200.85 341.10L202.02 341.10L203.20 341.10L204.38 341.10L205.55 341.10L206.73 341.10L207.90 341.10L209.08 341.10L210.26 341.10L211.43 341.10L212.61 341.10L213.78 341.10L214.96 341.10L216.14 341.10L217.31 341.10L218.49 341.10L219.66 341.10L220.84 341.10L222.02 341.10L223.19 341.10L224.37 341.10L225.54 341.10L226.72 341.10L227.90 341.10L229.07 341.10L230.25 341.10L231.42 341.10L232.60 341.10L233.78 341.10L234.95 341.10L236.13 341.10L237.30 341.10L238.48 341.10L239.66 341.10L240.83 341.10L242.01 341.10L243.18 341.10L244.36 341.10L245.54 341.10L246.71 341.10L247.89 341.10L249.06 341.10L250.24 341.10L251.42 341.10L252.59 341.10L253.77 341.10L254.94 341.10L256.12 341.10L257.30 341.10L258.47 341.10L259.65 341.10L260.82 341.10L262.00 341.10L263.18 341.10L264.35 341.10L265.53 341.10L266.70 341.10L267.88 341.10L269.06 341.10L270.23 341.10L271.41 341.10L272.58 341.10L273.76 341.10L274.94 341.10L276.11 341.10L277.29 341.10L278.46 341.10L279.64 341.10L280.82 341.10L281.99 341.10L283.17 341.10L284.34 341.10L285.52 341.10L286.70 341.10L287.87 341.10L289.05 341.10L290.22 341.10L291.40 341.10L292.58 341.10L293.75 341.10L294.93 341.10L296.10 341.10L297.28 341.10L298.46 341.10L299.63 341.10L300.81 341.10L301.98 341.10L303.16 341.10L304.34 341.10L305.51 341.10L306.69 341.10L307.86 341.10L309.04 341.10L310.22 341.10L311.39 341.10L312.57 341.10L313.74 341.10L314.92 341.10L316.10 341.10L317.27 341.10L318.45 341.10L319.62 341.10L320.80 341.10L321.98 341.10L323.15 341.10L324.33 341.10L325.50 341.10L326.68 341.10L327.86 341.10L329.03 341.10L330.21 341.10L331.38 341.10L332.56 341.10L333.74 341.10L334.91 341.10L336.09 341.10L337.26 341.10L338.44 341.10L339.62 341.10L340.79 341.10L341.97 341.10L343.14 341.10L344.32 341.10L345.50 341.10L346.67 341.10L347.85 341.10L349.02 341.10L350.20 341.10L351.38 341.10L352.55 341.10L353.73 341.10L354.90 341.10L356.08 341.10L357.26 341.10L358.43 341.10L359.61 341.10L360.78 341.10L361.96 341.10L363.14 341.10L364.31 341.10L365.49 341.10L366.66 341.10L367.84 341.10L369.02 341.10L370.19 341.10L371.37 341.10L372.54 341.10L373.72 341.10L374.90 341.10L376.07 341.10L377.25 341.10L378.42 341.10L379.60 341.10L380.78 341.10L381.95 341.10L383.13 341.10L384.30 341.10L385.48 341.10L386.66 341.10L387.83 341.10L389.01 341.10L390.18 341.10L391.36 341.10L392.54 341.10L393.71 341.10L394.89 341.10L396.06 341.10L397.24 341.10L398.42 341.10L399.59 341.10L400.77 341.10L401.94 341.10L403.12 341.10L404.30 341.10L405.47 341.10L406.65 341.10L407.82 341.10L409.00 341.10L410.18 341.10L411.35 341.10L412.53 341.10L413.70 341.10L414.88 341.10L416.06 341.10L417.23 341.10L418.41 341.10L419.58 341.10L420.76 341.10L421.94 341.10L423.11 341.10L424.29 341.10L425.46 341.10L426.64 341.10L427.82 341.10L428.99 341.10L430.17 341.10L431.34 341.10L432.52 341.10L433.70 341.10L434.87 341.10L436.05 341.10L437.22 341.10L438.40 341.10L439.58 341.10L440.75 341.10L441.93 341.10L443.10 341.10L444.28 341.10L445.46 341.10L446.63 341.10L447.81 341.10L448.98 341.10L450.16 341.10L451.34 341.10L452.51 341.10L453.69 341.10L454.86 341.10L456.04 341.10L457.22 341.10L458.39 341.10L459.57 341.10L460.74 341.10L461.92 341.10L463.10 341.10L464.27 341.10L465.45 341.10L466.62 341.10L467.80 341.10L468.98 341.10L470.15 341.10L471.33 341.10L472.50 341.10L473.68 341.10L474.86 341.10L476.03 341.10L477.21 341.10L478.38 341.10L479.56 341.10L480.74 341.10L481.91 341.10L483.09 341.10L484.26 341.10L485.44 341.10L486.62 341.10L487.79 341.10L488.97 341.10L490.14 341.10L491.32 341.10L492.50 341.10L493.67 341.10L494.85 341.10L496.02 341.10L497.20 341.10L498.38 341.10L499.55 341.09L500.73 341.09L501.90 341.09L503.08 341.09L504.26 341.09L505.43 341.09L506.61 341.09L507.78 341.09L508.96 341.09L510.14 341.09L511.31 341.09L512.49 341.09L513.66 341.09L514.84 341.09L516.02 341.09L517.19 341.09L518.37 341.09L519.54 341.09L520.72 341.09L521.90 341.09L523.07 341.09L524.25 341.09L525.42 341.09L526.60 341.09" stroke="#0072BD" stroke-width="2"/>
<path d="M56.20 355.85L57.38 355.77L58.55 355.69L59.73 355.61L60.90 355.52L62.08 355.44L63.26 355.34L64.43 355.25L65.61 355.15L66.78 355.05L67.96 354.95L69.14 354.85L70.31 354.74L71.49 354.63L72.66 354.52L73.84 354.40L75.02 354.29L76.19 354.17L77.37 354.05L78.54 353.93L79.72 353.80L80.90 353.68L82.07 353.55L83.25 353.42L84.42 353.30L85.60 353.16L86.78 353.03L87.95 352.90L89.13 352.76L90.30 352.63L91.48 352.49L92.66 352.36L93.83 352.22L95.01 352.08L96.18 351.94L97.36 351.80L98.54 351.66L99.71 351.52L100.89 351.38L102.06 351.23L103.24 351.09L104.42 350.95L105.59 350.81L106.77 350.66L107.94 350.52L109.12 350.38L110.30 350.23L111.47 350.09L112.65 349.95L113.82 349.81L115.00 349.66L116.18 349.52L117.35 349.38L118.53 349.24L119.70 349.10L120.88 348.96L122.06 348.82L123.23 348.68L124.41 348.54L125.58 348.40L126.76 348.26L127.94 348.12L129.11 347.99L130.29 347.85L131.46 347.72L132.64 347.58L133.82 347.45L134.99 347.32L136.17 347.19L137.34 347.06L138.52 346.93L139.70 346.80L140.87 346.67L142.05 346.54L143.22 346.42L144.40 346.30L145.58 346.17L146.75 346.05L147.93 345.93L149.10 345.81L150.28 345.69L151.46 345.58L152.63 345.46L153.81 345.35L154.98 345.23L156.16 345.12L157.34 345.01L158.51 344.90L159.69 344.80L160.86 344.69L162.04 344.59L163.22 344.48L164.39 344.38L165.57 344.28L166.74 344.18L167.92 344.08L169.10 343.99L170.27 343.89L171.45 343.80L172.62 343.71L173.80 343.62L174.98 343.53L176.15 343.44L177.33 343.36L178.50 343.27L179.68 343.19L180.86 343.11L182.03 343.03L183.21 342.95L184.38 342.88L185.56 342.80L186.74 342.73L187.91 342.66L189.09 342.59L190.26 342.52L191.44 342.45L192.62 342.39L193.79 342.32L194.97 342.26L196.14 342.20L197.32 342.14L198.50 342.08L199.67 342.03L200.85 341.97L202.02 341.92L203.20 341.87L204.38 341.82L205.55 341.77L206.73 341.72L207.90 341.67L209.08 341.63L210.26 341.59L211.43 341.54L212.61 341.50L213.78 341.46L214.96 341.43L216.14 341.39L217.31 341.36L218.49 341.32L219.66 341.29L220.84 341.26L222.02 341.23L223.19 341.20L224.37 341.17L225.54 341.15L226.72 341.12L227.90 341.10L229.07 341.08L230.25 341.06L231.42 341.04L232.60 341.02L233.78 341.00L234.95 340.98L236.13 340.97L237.30 340.95L238.48 340.94L239.66 340.93L240.83 340.92L242.01 340.91L243.18 340.90L244.36 340.89L245.54 340.88L246.71 340.88L247.89 340.87L249.06 340.87L250.24 340.86L251.42 340.86L252.59 340.86L253.77 340.86L254.94 340.86L256.12 340.86L257.30 340.86L258.47 340.86L259.65 340.86L260.82 340.87L262.00 340.87L263.18 340.87L264.35 340.88L265.53 340.88L266.70 340.89L267.88 340.90L269.06 340.90L270.23 340.91L271.41 340.92L272.58 340.93L273.76 340.94L274.94 340.95L276.11 340.96L277.29 340.97L278.46 340.98L279.64 340.99L280.82 341.00L281.99 341.01L283.17 341.02L284.34 341.03L285.52 341.04L286.70 341.05L287.87 341.06L289.05 341.08L290.22 341.09L291.40 341.10L292.58 341.11L293.75 341.12L294.93 341.14L296.10 341.15L297.28 341.16L298.46 341.17L299.63 341.18L300.81 341.19L301.98 341.20L303.16 341.21L304.34 341.22L305.51 341.23L306.69 341.24L307.86 341.25L309.04 341.26L310.22 341.27L311.39 341.28L312.57 341.29L313.74 341.30L314.92 341.30L316.10 341.31L317.27 341.32L318.45 341.32L319.62 341.33L320.80 341.33L321.98 341.33L323.15 341.34L324.33 341.34L325.50 341.34L326.68 341.34L327.86 341.34L329.03 341.34L330.21 341.34L331.38 341.34L332.56 341.34L333.74 341.33L334.91 341.33L336.09 341.32L337.26 341.32L338.44 341.31L339.62 341.30L340.79 341.29L341.97 341.28L343.14 341.27L344.32 341.26L345.50 341.25L346.67 341.23L347.85 341.22L349.02 341.20L350.20 341.18L351.38 341.16L352.55 341.14L353.73 341.12L354.90 341.10L356.08 341.08L357.26 341.05L358.43 341.03L359.61 341.00L360.78 340.97L361.96 340.94L363.14 340.91L364.31 340.88L365.49 340.84L366.66 340.81L367.84 340.77L369.02 340.74L370.19 340.70L371.37 340.66L372.54 340.61L373.72 340.57L374.90 340.53L376.07 340.48L377.25 340.43L378.42 340.38L379.60 340.33L380.78 340.28L381.95 340.23L383.13 340.17L384.30 340.12L385.48 340.06L386.66 340.00L387.83 339.94L389.01 339.88L390.18 339.81L391.36 339.75L392.54 339.68L393.71 339.61L394.89 339.54L396.06 339.47L397.24 339.40L398.42 339.32L399.59 339.25L400.77 339.17L401.94 339.09L403.12 339.01L404.30 338.93L405.47 338.84L406.65 338.76L407.82 338.67L409.00 338.58L410.18 338.49L411.35 338.40L412.53 338.31L413.70 338.21L414.88 338.12L416.06 338.02L417.23 337.92L418.41 337.82L419.58 337.72L420.76 337.61L421.94 337.51L423.11 337.40L424.29 337.30L425.46 337.19L426.64 337.08L427.82 336.97L428.99 336.85L430.17 336.74L431.34 336.62L432.52 336.51L433.70 336.39L434.87 336.27L436.05 336.15L437.22 336.03L438.40 335.90L439.58 335.78L440.75 335.66L441.93 335.53L443.10 335.40L444.28 335.27L445.46 335.14L446.63 335.01L447.81 334.88L448.98 334.75L450.16 334.62L451.34 334.48L452.51 334.35L453.69 334.21L454.86 334.08L456.04 333.94L457.22 333.80L458.39 333.66L459.57 333.52L460.74 333.38L461.92 333.24L463.10 333.10L464.27 332.96L465.45 332.82L466.62 332.68L467.80 332.54L468.98 332.39L470.15 332.25L471.33 332.11L472.50 331.97L473.68 331.82L474.86 331.68L476.03 331.54L477.21 331.39L478.38 331.25L479.56 331.11L480.74 330.97L481.91 330.82L483.09 330.68L484.26 330.54L485.44 330.40L486.62 330.26L487.79 330.12L488.97 329.98L490.14 329.84L491.32 329.71L492.50 329.57L493.67 329.44L494.85 329.30L496.02 329.17L497.20 329.04L498.38 328.90L499.55 328.78L500.73 328.65L501.90 328.52L503.08 328.40L504.26 328.27L505.43 328.15L506.61 328.03L507.78 327.91L508.96 327.80L510.14 327.68L511.31 327.57L512.49 327.46L513.66 327.35L514.84 327.25L516.02 327.15L517.19 327.05L518.37 326.95L519.54 326.86L520.72 326.76L521.90 326.68L523.07 326.59L524.25 326.51L525.42 326.43L526.60 326.35" stroke="#D95319" stroke-width="2"/>
<path d="M56.20 397.21L57.38 396.92L58.55 396.62L59.73 396.31L60.90 395.98L62.08 395.64L63.26 395.29L64.43 394.93L65.61 394.56L66.78 394.17L67.96 393.78L69.14 393.37L70.31 392.96L71.49 392.53L72.66 392.10L73.84 391.66L75.02 391.21L76.19 390.75L77.37 390.29L78.54 389.82L79.72 389.34L80.90 388.85L82.07 388.36L83.25 387.87L84.42 387.36L85.60 386.86L86.78 386.35L87.95 385.83L89.13 385.31L90.30 384.78L91.48 384.25L92.66 383.72L93.83 383.19L95.01 382.65L96.18 382.11L97.36 381.57L98.54 381.02L99.71 380.47L100.89 379.93L102.06 379.38L103.24 378.83L104.42 378.28L105.59 377.72L106.77 377.17L107.94 376.62L109.12 376.07L110.30 375.51L111.47 374.96L112.65 374.41L113.82 373.86L115.00 373.31L116.18 372.77L117.35 372.22L118.53 371.68L119.70 371.13L120.88 370.59L122.06 370.06L123.23 369.52L124.41 368.99L125.58 368.46L126.76 367.93L127.94 367.40L129.11 366.88L130.29 366.36L131.46 365.85L132.64 365.34L133.82 364.83L134.99 364.32L136.17 363.82L137.34 363.33L138.52 362.84L139.70 362.35L140.87 361.86L142.05 361.38L143.22 360.91L144.40 360.44L145.58 359.97L146.75 359.51L147.93 359.06L149.10 358.61L150.28 358.16L151.46 357.72L152.63 357.28L153.81 356.85L154.98 356.43L156.16 356.01L157.34 355.59L158.51 355.18L159.69 354.78L160.86 354.38L162.04 353.99L163.22 353.60L164.39 353.22L165.57 352.84L166.74 352.47L167.92 352.11L169.10 351.75L170.27 351.40L171.45 351.05L172.62 350.71L173.80 350.37L174.98 350.04L176.15 349.72L177.33 349.40L178.50 349.09L179.68 348.79L180.86 348.49L182.03 348.19L183.21 347.90L184.38 347.62L185.56 347.35L186.74 347.08L187.91 346.81L189.09 346.55L190.26 346.30L191.44 346.05L192.62 345.81L193.79 345.57L194.97 345.35L196.14 345.12L197.32 344.90L198.50 344.69L199.67 344.48L200.85 344.28L202.02 344.09L203.20 343.90L204.38 343.71L205.55 343.53L206.73 343.36L207.90 343.19L209.08 343.03L210.26 342.87L211.43 342.71L212.61 342.57L213.78 342.43L214.96 342.29L216.14 342.16L217.31 342.03L218.49 341.91L219.66 341.79L220.84 341.68L222.02 341.57L223.19 341.47L224.37 341.37L225.54 341.27L226.72 341.18L227.90 341.10L229.07 341.02L230.25 340.94L231.42 340.87L232.60 340.80L233.78 340.74L234.95 340.68L236.13 340.63L237.30 340.58L238.48 340.53L239.66 340.48L240.83 340.44L242.01 340.41L243.18 340.37L244.36 340.35L245.54 340.32L246.71 340.30L247.89 340.28L249.06 340.26L250.24 340.25L251.42 340.24L252.59 340.23L253.77 340.23L254.94 340.23L256.12 340.23L257.30 340.23L258.47 340.24L259.65 340.25L260.82 340.26L262.00 340.27L263.18 340.29L264.35 340.31L265.53 340.32L266.70 340.35L267.88 340.37L269.06 340.40L270.23 340.42L271.41 340.45L272.58 340.48L273.76 340.51L274.94 340.55L276.11 340.58L277.29 340.62L278.46 340.65L279.64 340.69L280.82 340.73L281.99 340.77L283.17 340.81L284.34 340.85L285.52 340.89L286.70 340.93L287.87 340.97L289.05 341.02L290.22 341.06L291.40 341.10L292.58 341.14L293.75 341.18L294.93 341.23L296.10 341.27L297.28 341.31L298.46 341.35L299.63 341.39L300.81 341.43L301.98 341.47L303.16 341.51L304.34 341.55L305.51 341.58L306.69 341.62L307.86 341.65L309.04 341.69L310.22 341.72L311.39 341.75L312.57 341.78L313.74 341.80L314.92 341.83L316.10 341.85L317.27 341.88L318.45 341.89L319.62 341.91L320.80 341.93L321.98 341.94L323.15 341.95L324.33 341.96L325.50 341.97L326.68 341.97L327.86 341.97L329.03 341.97L330.21 341.97L331.38 341.96L332.56 341.95L333.74 341.94L334.91 341.92L336.09 341.90L337.26 341.88L338.44 341.85L339.62 341.83L340.79 341.79L341.97 341.76L343.14 341.72L344.32 341.67L345.50 341.62L346.67 341.57L347.85 341.52L349.02 341.46L350.20 341.40L351.38 341.33L352.55 341.26L353.73 341.18L354.90 341.10L356.08 341.02L357.26 340.93L358.43 340.83L359.61 340.73L360.78 340.63L361.96 340.52L363.14 340.41L364.31 340.29L365.49 340.17L366.66 340.04L367.84 339.91L369.02 339.77L370.19 339.63L371.37 339.49L372.54 339.33L373.72 339.17L374.90 339.01L376.07 338.84L377.25 338.67L378.42 338.49L379.60 338.30L380.78 338.11L381.95 337.92L383.13 337.72L384.30 337.51L385.48 337.30L386.66 337.08L387.83 336.85L389.01 336.63L390.18 336.39L391.36 336.15L392.54 335.90L393.71 335.65L394.89 335.39L396.06 335.12L397.24 334.85L398.42 334.58L399.59 334.30L400.77 334.01L401.94 333.71L403.12 333.41L404.30 333.11L405.47 332.80L406.65 332.48L407.82 332.16L409.00 331.83L410.18 331.49L411.35 331.15L412.53 330.80L413.70 330.45L414.88 330.09L416.06 329.73L417.23 329.36L418.41 328.98L419.58 328.60L420.76 328.21L421.94 327.82L423.11 327.42L424.29 327.02L425.46 326.61L426.64 326.19L427.82 325.77L428.99 325.35L430.17 324.92L431.34 324.48L432.52 324.04L433.70 323.59L434.87 323.14L436.05 322.69L437.22 322.23L438.40 321.76L439.58 321.29L440.75 320.82L441.93 320.34L443.10 319.85L444.28 319.36L445.46 318.87L446.63 318.38L447.81 317.88L448.98 317.37L450.16 316.86L451.34 316.35L452.51 315.84L453.69 315.32L454.86 314.80L456.04 314.27L457.22 313.74L458.39 313.21L459.57 312.68L460.74 312.14L461.92 311.61L463.10 311.07L464.27 310.52L465.45 309.98L466.62 309.43L467.80 308.89L468.98 308.34L470.15 307.79L471.33 307.24L472.50 306.69L473.68 306.13L474.86 305.58L476.03 305.03L477.21 304.48L478.38 303.92L479.56 303.37L480.74 302.82L481.91 302.27L483.09 301.73L484.26 301.18L485.44 300.63L486.62 300.09L487.79 299.55L488.97 299.01L490.14 298.48L491.32 297.95L492.50 297.42L493.67 296.89L494.85 296.37L496.02 295.85L497.20 295.34L498.38 294.84L499.55 294.33L500.73 293.84L501.90 293.35L503.08 292.86L504.26 292.38L505.43 291.91L506.61 291.45L507.78 290.99L508.96 290.54L510.14 290.10L511.31 289.67L512.49 289.24L513.66 288.83L514.84 288.42L516.02 288.03L517.19 287.64L518.37 287.27L519.54 286.91L520.72 286.56L521.90 286.22L523.07 285.89L524.25 285.58L525.42 285.28L526.60 284.99" stroke="#EDB120" stroke-width="2"/>
<path d="M56.20 457.88L57.38 457.28L58.55 456.65L59.73 455.99L60.90 455.31L62.08 454.59L63.26 453.85L64.43 453.08L65.61 452.29L66.78 451.47L67.96 450.63L69.14 449.76L70.31 448.88L71.49 447.97L72.66 447.05L73.84 446.11L75.02 445.14L76.19 444.17L77.37 443.17L78.54 442.16L79.72 441.13L80.90 440.09L82.07 439.04L83.25 437.98L84.42 436.90L85.60 435.81L86.78 434.71L87.95 433.60L89.13 432.48L90.30 431.36L91.48 430.23L92.66 429.09L93.83 427.94L95.01 426.79L96.18 425.63L97.36 424.47L98.54 423.30L99.71 422.13L100.89 420.96L102.06 419.79L103.24 418.61L104.42 417.44L105.59 416.26L106.77 415.09L107.94 413.91L109.12 412.74L110.30 411.56L111.47 410.39L112.65 409.22L113.82 408.06L115.00 406.90L116.18 405.74L117.35 404.58L118.53 403.43L119.70 402.29L120.88 401.15L122.06 400.01L123.23 398.88L124.41 397.76L125.58 396.65L126.76 395.54L127.94 394.44L129.11 393.34L130.29 392.26L131.46 391.18L132.64 390.11L133.82 389.05L134.99 388.00L136.17 386.96L137.34 385.93L138.52 384.90L139.70 383.89L140.87 382.89L142.05 381.89L143.22 380.91L144.40 379.94L145.58 378.97L146.75 378.02L147.93 377.08L149.10 376.16L150.28 375.24L151.46 374.33L152.63 373.44L153.81 372.56L154.98 371.69L156.16 370.83L157.34 369.98L158.51 369.14L159.69 368.32L160.86 367.51L162.04 366.71L163.22 365.93L164.39 365.15L165.57 364.39L166.74 363.64L167.92 362.90L169.10 362.18L170.27 361.47L171.45 360.77L172.62 360.08L173.80 359.41L174.98 358.75L176.15 358.10L177.33 357.46L178.50 356.84L179.68 356.22L180.86 355.62L182.03 355.04L183.21 354.46L184.38 353.90L185.56 353.35L186.74 352.81L187.91 352.29L189.09 351.77L190.26 351.27L191.44 350.78L192.62 350.31L193.79 349.84L194.97 349.39L196.14 348.95L197.32 348.51L198.50 348.10L199.67 347.69L200.85 347.29L202.02 346.91L203.20 346.54L204.38 346.17L205.55 345.82L206.73 345.48L207.90 345.15L209.08 344.83L210.26 344.53L211.43 344.23L212.61 343.94L213.78 343.66L214.96 343.40L216.14 343.14L217.31 342.89L218.49 342.66L219.66 342.43L220.84 342.21L222.02 342.00L223.19 341.81L224.37 341.62L225.54 341.44L226.72 341.26L227.90 341.10L229.07 340.95L230.25 340.80L231.42 340.66L232.60 340.53L233.78 340.41L234.95 340.30L236.13 340.19L237.30 340.09L238.48 340.00L239.66 339.92L240.83 339.84L242.01 339.77L243.18 339.71L244.36 339.65L245.54 339.61L246.71 339.56L247.89 339.53L249.06 339.50L250.24 339.47L251.42 339.45L252.59 339.44L253.77 339.43L254.94 339.43L256.12 339.43L257.30 339.44L258.47 339.45L259.65 339.47L260.82 339.49L262.00 339.52L263.18 339.55L264.35 339.58L265.53 339.62L266.70 339.66L267.88 339.71L269.06 339.76L270.23 339.81L271.41 339.86L272.58 339.92L273.76 339.98L274.94 340.05L276.11 340.11L277.29 340.18L278.46 340.25L279.64 340.32L280.82 340.39L281.99 340.47L283.17 340.54L284.34 340.62L285.52 340.70L286.70 340.78L287.87 340.86L289.05 340.94L290.22 341.02L291.40 341.10L292.58 341.18L293.75 341.26L294.93 341.34L296.10 341.42L297.28 341.50L298.46 341.58L299.63 341.66L300.81 341.73L301.98 341.81L303.16 341.88L304.34 341.95L305.51 342.02L306.69 342.09L307.86 342.15L309.04 342.22L310.22 342.28L311.39 342.34L312.57 342.39L313.74 342.44L314.92 342.49L316.10 342.54L317.27 342.58L318.45 342.62L319.62 342.65L320.80 342.68L321.98 342.71L323.15 342.73L324.33 342.75L325.50 342.76L326.68 342.77L327.86 342.77L329.03 342.77L330.21 342.76L331.38 342.75L332.56 342.73L333.74 342.70L334.91 342.67L336.09 342.64L337.26 342.59L338.44 342.55L339.62 342.49L340.79 342.43L341.97 342.36L343.14 342.28L344.32 342.20L345.50 342.11L346.67 342.01L347.85 341.90L349.02 341.79L350.20 341.67L351.38 341.54L352.55 341.40L353.73 341.25L354.90 341.10L356.08 340.94L357.26 340.76L358.43 340.58L359.61 340.39L360.78 340.20L361.96 339.99L363.14 339.77L364.31 339.54L365.49 339.31L366.66 339.06L367.84 338.80L369.02 338.54L370.19 338.26L371.37 337.97L372.54 337.67L373.72 337.37L374.90 337.05L376.07 336.72L377.25 336.38L378.42 336.03L379.60 335.66L380.78 335.29L381.95 334.91L383.13 334.51L384.30 334.10L385.48 333.69L386.66 333.25L387.83 332.81L389.01 332.36L390.18 331.89L391.36 331.42L392.54 330.93L393.71 330.43L394.89 329.91L396.06 329.39L397.24 328.85L398.42 328.30L399.59 327.74L400.77 327.16L401.94 326.58L403.12 325.98L404.30 325.36L405.47 324.74L406.65 324.10L407.82 323.45L409.00 322.79L410.18 322.12L411.35 321.43L412.53 320.73L413.70 320.02L414.88 319.30L416.06 318.56L417.23 317.81L418.41 317.05L419.58 316.27L420.76 315.49L421.94 314.69L423.11 313.88L424.29 313.06L425.46 312.22L426.64 311.37L427.82 310.51L428.99 309.64L430.17 308.76L431.34 307.87L432.52 306.96L433.70 306.04L434.87 305.12L436.05 304.18L437.22 303.23L438.40 302.26L439.58 301.29L440.75 300.31L441.93 299.31L443.10 298.31L444.28 297.30L445.46 296.27L446.63 295.24L447.81 294.20L448.98 293.15L450.16 292.09L451.34 291.02L452.51 289.94L453.69 288.86L454.86 287.76L456.04 286.66L457.22 285.55L458.39 284.44L459.57 283.32L460.74 282.19L461.92 281.05L463.10 279.91L464.27 278.77L465.45 277.62L466.62 276.46L467.80 275.30L468.98 274.14L470.15 272.98L471.33 271.81L472.50 270.64L473.68 269.46L474.86 268.29L476.03 267.11L477.21 265.94L478.38 264.76L479.56 263.59L480.74 262.41L481.91 261.24L483.09 260.07L484.26 258.90L485.44 257.73L486.62 256.57L487.79 255.41L488.97 254.26L490.14 253.11L491.32 251.97L492.50 250.84L493.67 249.72L494.85 248.60L496.02 247.49L497.20 246.39L498.38 245.30L499.55 244.22L500.73 243.16L501.90 242.11L503.08 241.07L504.26 240.04L505.43 239.03L506.61 238.03L507.78 237.06L508.96 236.09L510.14 235.15L511.31 234.23L512.49 233.32L513.66 232.44L514.84 231.57L516.02 230.73L517.19 229.91L518.37 229.12L519.54 228.35L520.72 227.61L521.90 226.89L523.07 226.21L524.25 225.55L525.42 224.92L526.60 224.32" stroke="#7E2F8E" stroke-width="2"/>
<path d="M56.20 595.39L57.38 594.08L58.55 592.68L59.73 591.21L60.90 589.66L62.08 588.04L63.26 586.35L64.43 584.58L65.61 582.75L66.78 580.86L67.96 578.91L69.14 576.90L70.31 574.83L71.49 572.71L72.66 570.54L73.84 568.32L75.02 566.06L76.19 563.75L77.37 561.40L78.54 559.01L79.72 556.58L80.90 554.12L82.07 551.63L83.25 549.11L84.42 546.56L85.60 543.99L86.78 541.39L87.95 538.77L89.13 536.13L90.30 533.48L91.48 530.81L92.66 528.12L93.83 525.43L95.01 522.72L96.18 520.01L97.36 517.29L98.54 514.56L99.71 511.84L100.89 509.11L102.06 506.38L103.24 503.65L104.42 500.93L105.59 498.21L106.77 495.50L107.94 492.79L109.12 490.09L110.30 487.40L111.47 484.73L112.65 482.06L113.82 479.41L115.00 476.77L116.18 474.14L117.35 471.54L118.53 468.94L119.70 466.37L120.88 463.82L122.06 461.28L123.23 458.76L124.41 456.27L125.58 453.80L126.76 451.35L127.94 448.92L129.11 446.51L130.29 444.13L131.46 441.78L132.64 439.45L133.82 437.14L134.99 434.86L136.17 432.61L137.34 430.38L138.52 428.18L139.70 426.01L140.87 423.87L142.05 421.75L143.22 419.66L144.40 417.61L145.58 415.57L146.75 413.57L147.93 411.60L149.10 409.66L150.28 407.74L151.46 405.86L152.63 404.00L153.81 402.17L154.98 400.38L156.16 398.61L157.34 396.87L158.51 395.17L159.69 393.49L160.86 391.84L162.04 390.22L163.22 388.63L164.39 387.07L165.57 385.54L166.74 384.04L167.92 382.56L169.10 381.12L170.27 379.70L171.45 378.32L172.62 376.96L173.80 375.63L174.98 374.33L176.15 373.05L177.33 371.81L178.50 370.59L179.68 369.40L180.86 368.23L182.03 367.10L183.21 365.99L184.38 364.90L185.56 363.85L186.74 362.82L187.91 361.81L189.09 360.83L190.26 359.88L191.44 358.95L192.62 358.05L193.79 357.17L194.97 356.31L196.14 355.48L197.32 354.67L198.50 353.89L199.67 353.13L200.85 352.39L202.02 351.68L203.20 350.99L204.38 350.32L205.55 349.67L206.73 349.04L207.90 348.44L209.08 347.85L210.26 347.29L211.43 346.74L212.61 346.22L213.78 345.72L214.96 345.23L216.14 344.77L217.31 344.32L218.49 343.89L219.66 343.48L220.84 343.09L222.02 342.72L223.19 342.36L224.37 342.02L225.54 341.70L226.72 341.39L227.90 341.10L229.07 340.83L230.25 340.57L231.42 340.32L232.60 340.09L233.78 339.88L234.95 339.68L236.13 339.49L237.30 339.32L238.48 339.16L239.66 339.02L240.83 338.88L242.01 338.76L243.18 338.66L244.36 338.56L245.54 338.48L246.71 338.40L247.89 338.34L249.06 338.29L250.24 338.25L251.42 338.22L252.59 338.20L253.77 338.18L254.94 338.18L256.12 338.19L257.30 338.20L258.47 338.23L259.65 338.26L260.82 338.30L262.00 338.34L263.18 338.40L264.35 338.46L265.53 338.53L266.70 338.60L267.88 338.68L269.06 338.77L270.23 338.86L271.41 338.95L272.58 339.05L273.76 339.16L274.94 339.27L276.11 339.38L277.29 339.50L278.46 339.62L279.64 339.75L280.82 339.87L281.99 340.00L283.17 340.14L284.34 340.27L285.52 340.41L286.70 340.54L287.87 340.68L289.05 340.82L290.22 340.96L291.40 341.10L292.58 341.24L293.75 341.38L294.93 341.52L296.10 341.66L297.28 341.79L298.46 341.93L299.63 342.06L300.81 342.20L301.98 342.33L303.16 342.45L304.34 342.58L305.51 342.70L306.69 342.82L307.86 342.93L309.04 343.04L310.22 343.15L311.39 343.25L312.57 343.34L313.74 343.43L314.92 343.52L316.10 343.60L317.27 343.67L318.45 343.74L319.62 343.80L320.80 343.86L321.98 343.90L323.15 343.94L324.33 343.97L325.50 344.00L326.68 344.01L327.86 344.02L329.03 344.02L330.21 344.00L331.38 343.98L332.56 343.95L333.74 343.91L334.91 343.86L336.09 343.80L337.26 343.72L338.44 343.64L339.62 343.54L340.79 343.44L341.97 343.32L343.14 343.18L344.32 343.04L345.50 342.88L346.67 342.71L347.85 342.52L349.02 342.32L350.20 342.11L351.38 341.88L352.55 341.63L353.73 341.37L354.90 341.10L356.08 340.81L357.26 340.50L358.43 340.18L359.61 339.84L360.78 339.48L361.96 339.11L363.14 338.72L364.31 338.31L365.49 337.88L366.66 337.43L367.84 336.97L369.02 336.48L370.19 335.98L371.37 335.46L372.54 334.91L373.72 334.35L374.90 333.76L376.07 333.16L377.25 332.53L378.42 331.88L379.60 331.21L380.78 330.52L381.95 329.81L383.13 329.07L384.30 328.31L385.48 327.53L386.66 326.72L387.83 325.89L389.01 325.03L390.18 324.15L391.36 323.25L392.54 322.32L393.71 321.37L394.89 320.39L396.06 319.38L397.24 318.35L398.42 317.30L399.59 316.21L400.77 315.10L401.94 313.97L403.12 312.80L404.30 311.61L405.47 310.39L406.65 309.15L407.82 307.87L409.00 306.57L410.18 305.24L411.35 303.88L412.53 302.50L413.70 301.08L414.88 299.64L416.06 298.16L417.23 296.66L418.41 295.13L419.58 293.57L420.76 291.98L421.94 290.36L423.11 288.71L424.29 287.03L425.46 285.33L426.64 283.59L427.82 281.82L428.99 280.03L430.17 278.20L431.34 276.34L432.52 274.46L433.70 272.54L434.87 270.60L436.05 268.63L437.22 266.63L438.40 264.59L439.58 262.54L440.75 260.45L441.93 258.33L443.10 256.19L444.28 254.02L445.46 251.82L446.63 249.59L447.81 247.34L448.98 245.06L450.16 242.75L451.34 240.42L452.51 238.07L453.69 235.69L454.86 233.28L456.04 230.85L457.22 228.40L458.39 225.93L459.57 223.44L460.74 220.92L461.92 218.38L463.10 215.83L464.27 213.26L465.45 210.66L466.62 208.06L467.80 205.43L468.98 202.79L470.15 200.14L471.33 197.47L472.50 194.80L473.68 192.11L474.86 189.41L476.03 186.70L477.21 183.99L478.38 181.27L479.56 178.55L480.74 175.82L481.91 173.09L483.09 170.36L484.26 167.64L485.44 164.91L486.62 162.19L487.79 159.48L488.97 156.77L490.14 154.08L491.32 151.39L492.50 148.72L493.67 146.07L494.85 143.43L496.02 140.81L497.20 138.21L498.38 135.64L499.55 133.09L500.73 130.57L501.90 128.08L503.08 125.62L504.26 123.19L505.43 120.80L506.61 118.45L507.78 116.14L508.96 113.88L510.14 111.66L511.31 109.49L512.49 107.37L513.66 105.30L514.84 103.29L516.02 101.34L517.19 99.45L518.37 97.62L519.54 95.85L520.72 94.16L521.90 92.54L523.07 90.99L524.25 89.52L525.42 88.12L526.60 86.81" stroke="#77AC30" stroke-width="2"/>
<path d="M56.20 687.10L57.38 687.10L58.55 687.10L59.73 687.10L60.90 687.10L62.08 687.10L63.26 687.10L64.43 687.10L65.61 687.10L66.78 687.10L67.96 687.10L69.14 687.10L70.31 687.10L71.49 687.10L72.66 687.10L73.84 687.10L75.02 687.10L76.19 687.10L77.37 687.10L78.54 687.10L79.72 687.10L80.90 687.10L82.07 687.10L83.25 687.10L84.42 687.10L85.60 687.10L86.78 687.10L87.95 687.10L89.13 687.10L90.30 687.10L91.48 687.10L92.66 687.10L93.83 687.10L95.01 686.47L96.18 679.18L97.36 671.93L98.54 664.73L99.71 657.59L100.89 650.51L102.06 643.51L103.24 636.57L104.42 629.71L105.59 622.92L106.77 616.22L107.94 609.61L109.12 603.08L110.30 596.64L111.47 590.30L112.65 584.05L113.82 577.89L115.00 571.84L116.18 565.88L117.35 560.02L118.53 554.26L119.70 548.60L120.88 543.04L122.06 537.58L123.23 532.22L124.41 526.96L125.58 521.81L126.76 516.75L127.94 511.79L129.11 506.93L130.29 502.18L131.46 497.52L132.64 492.95L133.82 488.48L134.99 484.11L136.17 479.83L137.34 475.65L138.52 471.56L139.70 467.56L140.87 463.64L142.05 459.82L143.22 456.09L144.40 452.44L145.58 448.87L146.75 445.39L147.93 442.00L149.10 438.68L150.28 435.44L151.46 432.28L152.63 429.20L153.81 426.20L154.98 423.27L156.16 420.41L157.34 417.63L158.51 414.91L159.69 412.27L160.86 409.69L162.04 407.18L163.22 404.74L164.39 402.36L165.57 400.04L166.74 397.79L167.92 395.60L169.10 393.46L170.27 391.39L171.45 389.37L172.62 387.41L173.80 385.50L174.98 383.65L176.15 381.85L177.33 380.10L178.50 378.40L179.68 376.75L180.86 375.15L182.03 373.60L183.21 372.09L184.38 370.63L185.56 369.22L186.74 367.85L187.91 366.52L189.09 365.23L190.26 363.98L191.44 362.78L192.62 361.61L193.79 360.48L194.97 359.39L196.14 358.33L197.32 357.31L198.50 356.33L199.67 355.38L200.85 354.46L202.02 353.58L203.20 352.73L204.38 351.91L205.55 351.12L206.73 350.36L207.90 349.63L209.08 348.93L210.26 348.26L211.43 347.61L212.61 346.99L213.78 346.40L214.96 345.83L216.14 345.29L217.31 344.77L218.49 344.27L219.66 343.80L220.84 343.35L222.02 342.92L223.19 342.52L224.37 342.13L225.54 341.77L226.72 341.43L227.90 341.10L229.07 340.79L230.25 340.51L231.42 340.24L232.60 339.98L233.78 339.75L234.95 339.53L236.13 339.33L237.30 339.14L238.48 338.97L239.66 338.81L240.83 338.67L242.01 338.54L243.18 338.43L244.36 338.33L245.54 338.24L246.71 338.16L247.89 338.10L249.06 338.05L250.24 338.01L251.42 337.98L252.59 337.96L253.77 337.95L254.94 337.95L256.12 337.96L257.30 337.98L258.47 338.01L259.65 338.05L260.82 338.09L262.00 338.14L263.18 338.20L264.35 338.27L265.53 338.35L266.70 338.43L267.88 338.51L269.06 338.61L270.23 338.71L271.41 338.81L272.58 338.92L273.76 339.03L274.94 339.15L276.11 339.27L277.29 339.40L278.46 339.53L279.64 339.66L280.82 339.80L281.99 339.94L283.17 340.08L284.34 340.22L285.52 340.36L286.70 340.51L287.87 340.66L289.05 340.80L290.22 340.95L291.40 341.10L292.58 341.25L293.75 341.40L294.93 341.54L296.10 341.69L297.28 341.84L298.46 341.98L299.63 342.12L300.81 342.26L301.98 342.40L303.16 342.54L304.34 342.67L305.51 342.80L306.69 342.93L307.86 343.05L309.04 343.17L310.22 343.28L311.39 343.39L312.57 343.49L313.74 343.59L314.92 343.69L316.10 343.77L317.27 343.85L318.45 343.93L319.62 344.00L320.80 344.06L321.98 344.11L323.15 344.15L324.33 344.19L325.50 344.22L326.68 344.24L327.86 344.25L329.03 344.25L330.21 344.24L331.38 344.22L332.56 344.19L333.74 344.15L334.91 344.10L336.09 344.04L337.26 343.96L338.44 343.87L339.62 343.77L340.79 343.66L341.97 343.53L343.14 343.39L344.32 343.23L345.50 343.06L346.67 342.87L347.85 342.67L349.02 342.45L350.20 342.22L351.38 341.96L352.55 341.69L353.73 341.41L354.90 341.10L356.08 340.77L357.26 340.43L358.43 340.07L359.61 339.68L360.78 339.28L361.96 338.85L363.14 338.40L364.31 337.93L365.49 337.43L366.66 336.91L367.84 336.37L369.02 335.80L370.19 335.21L371.37 334.59L372.54 333.94L373.72 333.27L374.90 332.57L376.07 331.84L377.25 331.08L378.42 330.29L379.60 329.47L380.78 328.62L381.95 327.74L383.13 326.82L384.30 325.87L385.48 324.89L386.66 323.87L387.83 322.81L389.01 321.72L390.18 320.59L391.36 319.42L392.54 318.22L393.71 316.97L394.89 315.68L396.06 314.35L397.24 312.98L398.42 311.57L399.59 310.11L400.77 308.60L401.94 307.05L403.12 305.45L404.30 303.80L405.47 302.10L406.65 300.35L407.82 298.55L409.00 296.70L410.18 294.79L411.35 292.83L412.53 290.81L413.70 288.74L414.88 286.60L416.06 284.41L417.23 282.16L418.41 279.84L419.58 277.46L420.76 275.02L421.94 272.51L423.11 269.93L424.29 267.29L425.46 264.57L426.64 261.79L427.82 258.93L428.99 256.00L430.17 253.00L431.34 249.92L432.52 246.76L433.70 243.52L434.87 240.20L436.05 236.81L437.22 233.33L438.40 229.76L439.58 226.11L440.75 222.38L441.93 218.56L443.10 214.64L444.28 210.64L445.46 206.55L446.63 202.37L447.81 198.09L448.98 193.72L450.16 189.25L451.34 184.68L452.51 180.02L453.69 175.27L454.86 170.41L456.04 165.45L457.22 160.39L458.39 155.24L459.57 149.98L460.74 144.62L461.92 139.16L463.10 133.60L464.27 127.94L465.45 122.18L466.62 116.32L467.80 110.36L468.98 104.31L470.15 98.15L471.33 91.90L472.50 85.56L473.68 79.12L474.86 72.59L476.03 65.98L477.21 59.28L478.38 52.49L479.56 45.63L480.74 38.69L481.91 31.69L483.09 24.61L484.26 17.47L485.44 10.27L486.62 3.02L487.79 -4.27L488.97 -4.90L490.14 -4.90L491.32 -4.90L492.50 -4.90L493.67 -4.90L494.85 -4.90L496.02 -4.90L497.20 -4.90L498.38 -4.90L499.55 -4.90L500.73 -4.90L501.90 -4.90L503.08 -4.90L504.26 -4.90L505.43 -4.90L506.61 -4.90L507.78 -4.90L508.96 -4.90L510.14 -4.90L511.31 -4.90L512.49 -4.90L513.66 -4.90L514.84 -4.90L516.02 -4.90L517.19 -4.90L518.37 -4.90L519.54 -4.90L520.72 -4.90L521.90 -4.90L523.07 -4.90L524.25 -4.90L525.42 -4.90L526.60 -4.90" stroke="#4DBEEE" stroke-width="2"/>
</g>
<path d="M56.20 427.60v-4.7M103.24 427.60v-4.7M150.28 427.60v-4.7M197.32 427.60v-4.7M244.36 427.60v-4.7M291.40 427.60v-4.7M338.44 427.60v-4.7M385.48 427.60v-4.7M432.52 427.60v-4.7M479.56 427.60v-4.7M526.60 427.60v-4.7M56.20 427.60h4.7M56.20 384.35h4.7M56.20 341.10h4.7M56.20 297.85h4.7M56.20 254.60h4.7" stroke="#999" stroke-width="1" fill="none"/>
<path d="M56.20 254.10V427.60H527.10" stroke="#999" stroke-width="1.5" fill="none" stroke-linejoin="miter"/>
<text class="t" x="56.20" y="444.50" text-anchor="middle">−1000</text>
<text class="t" x="103.24" y="444.50" text-anchor="middle">−800</text>
<text class="t" x="150.28" y="444.50" text-anchor="middle">−600</text>
<text class="t" x="197.32" y="444.50" text-anchor="middle">−400</text>
<text class="t" x="244.36" y="444.50" text-anchor="middle">−200</text>
<text class="t" x="291.40" y="444.50" text-anchor="middle">0</text>
<text class="t" x="338.44" y="444.50" text-anchor="middle">200</text>
<text class="t" x="385.48" y="444.50" text-anchor="middle">400</text>
<text class="t" x="432.52" y="444.50" text-anchor="middle">600</text>
<text class="t" x="479.56" y="444.50" text-anchor="middle">800</text>
<text class="t" x="526.60" y="444.50" text-anchor="middle">1000</text>
<text class="t" x="51.4" y="432.50" text-anchor="end">−100</text>
<text class="t" x="51.4" y="389.25" text-anchor="end">−50</text>
<text class="t" x="51.4" y="346.00" text-anchor="end">0</text>
<text class="t" x="51.4" y="302.75" text-anchor="end">50</text>
<text class="t" x="51.4" y="259.50" text-anchor="end">100</text>
<text class="l" x="291.50" y="464.30" text-anchor="middle">Displacement (µm)</text>
<text class="l" transform="translate(20.4,340.80) rotate(-90)" text-anchor="middle">DSL Error (µm)</text>
<rect x="460.7" y="339.2" width="58.90" height="80.50" fill="#fff" stroke="#555" stroke-width="0.9"/>
<path d="M462.8 346.1H487.2" stroke="#0072BD" stroke-width="2" fill="none"/>
<text class="g" x="489.4" y="349.60">0.01Ω</text>
<path d="M462.8 359.4H487.2" stroke="#D95319" stroke-width="2" fill="none"/>
<text class="g" x="489.4" y="362.90">0.5Ω</text>
<path d="M462.8 372.6H487.2" stroke="#EDB120" stroke-width="2" fill="none"/>
<text class="g" x="489.4" y="376.10">1Ω</text>
<path d="M462.8 385.7H487.2" stroke="#7E2F8E" stroke-width="2" fill="none"/>
<text class="g" x="489.4" y="389.20">1.5Ω</text>
<path d="M462.8 398.8H487.2" stroke="#77AC30" stroke-width="2" fill="none"/>
<text class="g" x="489.4" y="402.30">2.45Ω</text>
<path d="M462.8 412.0H487.2" stroke="#4DBEEE" stroke-width="2" fill="none"/>
<text class="g" x="489.4" y="415.50">5Ω</text>
</svg></body></html>
